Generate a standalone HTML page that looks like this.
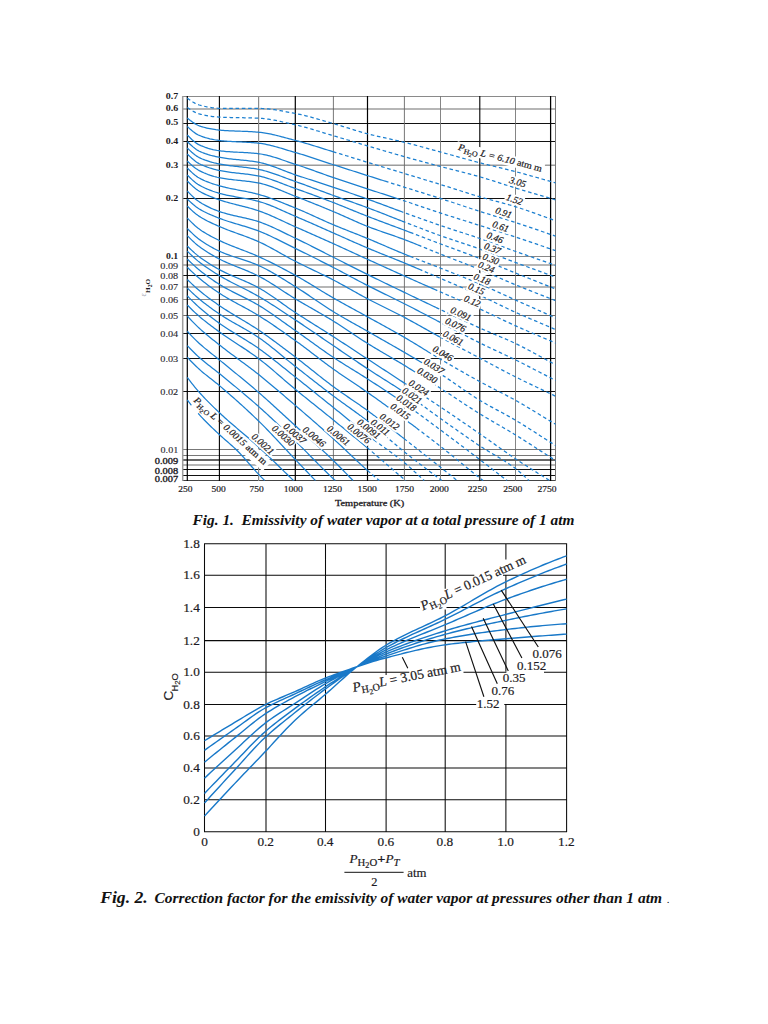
<!DOCTYPE html>
<html lang="en"><head><meta charset="utf-8"><title>Emissivity of water vapor</title>
<style>html,body{margin:0;padding:0;background:#fff}body{width:768px;height:1024px;overflow:hidden;font-family:"Liberation Serif",serif}svg{display:block}</style></head>
<body>
<svg width="768" height="1024" viewBox="0 0 768 1024">
<rect width="768" height="1024" fill="#fff"/>
<clipPath id="c1"><rect x="120" y="85" width="437" height="430"/></clipPath>
<clipPath id="p1"><rect x="182.7" y="96.5" width="372.8" height="384.5"/></clipPath>
<g clip-path="url(#c1)">
<g fill="none">
<path d="M182.1 96.5 H555.8" stroke="#8a8a8a" stroke-width="1.0"/>
<path d="M182.1 109 H555.8" stroke="#9e9e9e" stroke-width="1.6"/>
<path d="M182.1 123.5 H555.8" stroke="#111" stroke-width="1.0"/>
<path d="M182.1 141.5 H555.8" stroke="#111" stroke-width="1.0"/>
<path d="M182.1 165.2 H555.8" stroke="#9c9c9c" stroke-width="1.5"/>
<path d="M182.1 198.5 H555.8" stroke="#111" stroke-width="1.0"/>
<path d="M182.1 256.5 H555.8" stroke="#888" stroke-width="1.0"/>
<path d="M182.1 265 H555.8" stroke="#9e9e9e" stroke-width="1.6"/>
<path d="M182.1 275.5 H555.8" stroke="#111" stroke-width="1.0"/>
<path d="M182.1 287 H555.8" stroke="#9e9e9e" stroke-width="1.6"/>
<path d="M182.1 299.5 H555.8" stroke="#888" stroke-width="1.1"/>
<path d="M182.1 315.5 H555.8" stroke="#6a6a6a" stroke-width="1.0"/>
<path d="M182.1 333.5 H555.8" stroke="#111" stroke-width="1.0"/>
<path d="M182.1 358.5 H555.8" stroke="#111" stroke-width="1.0"/>
<path d="M182.1 391.5 H555.8" stroke="#111" stroke-width="1.0"/>
<path d="M182.1 449.5 H555.8" stroke="#777" stroke-width="1.0"/>
<path d="M182.1 455.5 H555.8" stroke="#777" stroke-width="1.0"/>
<path d="M182.1 459.9 H555.8" stroke="#333" stroke-width="1.5"/>
<path d="M182.1 465 H555.8" stroke="#9e9e9e" stroke-width="1.6"/>
<path d="M182.1 469.5 H555.8" stroke="#111" stroke-width="1.0"/>
<path d="M182.1 475.5 H555.8" stroke="#111" stroke-width="1.0"/>
<path d="M182.1 480.5 H555.8" stroke="#444" stroke-width="1.0"/>
<path d="M182.7 96.1 V481" stroke="#9c9c9c" stroke-width="1.5"/>
<path d="M187.3 96.1 V481" stroke="#000" stroke-width="1.2"/>
<path d="M219.4 96.1 V481" stroke="#000" stroke-width="1.1"/>
<path d="M258.6 96.1 V481" stroke="#8a8a8a" stroke-width="1.2"/>
<path d="M295.3 96.1 V481" stroke="#000" stroke-width="1.2"/>
<path d="M333.4 96.1 V481" stroke="#555" stroke-width="0.8"/>
<path d="M367.5 96.1 V481" stroke="#000" stroke-width="1.2"/>
<path d="M404.4 96.1 V481" stroke="#666" stroke-width="0.9"/>
<path d="M440.5 96.1 V481" stroke="#777" stroke-width="0.9"/>
<path d="M479.8 96.1 V481" stroke="#000" stroke-width="1.1"/>
<path d="M515.5 96.1 V481" stroke="#666" stroke-width="0.8"/>
<path d="M550.6 96.1 V481" stroke="#000" stroke-width="1.25"/>
<path d="M555.5 96.1 V481" stroke="#777" stroke-width="1.0"/>
</g>
<g clip-path="url(#p1)" fill="none" stroke="#1b7fd0" stroke-width="1.25" stroke-linejoin="round">
<path d="M187.3 118 L188.8 119.22 L190.3 120.42 L191.8 121.56 L193.3 122.64 L194.8 123.64 L196.3 124.52 L197.8 125.27 L199.3 125.87 L200.8 126.36 L202.3 126.81 L203.8 127.24 L205.3 127.64 L206.8 128.02 L208.3 128.37 L209.8 128.69 L211.3 128.98 L212.8 129.24 L214.3 129.48 L215.8 129.7 L217.3 129.88 L218.8 130.04 L220.3 130.18 L221.8 130.3 L223.3 130.42 L224.8 130.52 L226.3 130.61 L227.8 130.7 L229.3 130.78 L230.8 130.85 L232.3 130.91 L233.8 130.98 L235.3 131.03 L236.8 131.09 L238.3 131.15 L239.8 131.2 L241.3 131.25 L242.8 131.31 L244.3 131.37 L245.8 131.43 L247.3 131.49 L248.8 131.56 L250.3 131.64 L251.8 131.72 L253.3 131.81 L254.8 131.91 L256.3 132.01 L257.8 132.13 L259.3 132.26 L260.8 132.42 L262.3 132.61 L263.8 132.82 L265.3 133.05 L266.8 133.31 L268.3 133.59 L269.8 133.89 L271.3 134.2 L272.8 134.54 L274.3 134.88 L275.8 135.24 L277.3 135.61 L278.8 136 L280.3 136.39 L281.8 136.78 L283.3 137.18 L284.8 137.59 L286.3 138 L287.8 138.41 L289.3 138.81 L290.8 139.22 L292.3 139.62 L293.8 140.01 L295.3 140.4 L296.8 140.79 L298.3 141.19 L299.8 141.59 L301.3 142.01 L302.8 142.43 L304.3 142.86 L305.8 143.29 L307.3 143.73 L308.8 144.18 L310.3 144.63 L311.8 145.09 L313.3 145.55 L314.8 146.01 L316.3 146.48 L317.8 146.94 L319.3 147.41 L320.8 147.88 L322.3 148.35 L323.8 148.83 L325.3 149.3 L326.8 149.76 L328.3 150.23 L329.8 150.7 L331.3 151.16 L332.8 151.62 L333 151.68 M187.3 126.5 L188.8 127.88 L190.3 129.23 L191.8 130.52 L193.3 131.75 L194.8 132.87 L196.3 133.87 L197.8 134.74 L199.3 135.44 L200.8 136.01 L202.3 136.55 L203.8 137.06 L205.3 137.54 L206.8 137.98 L208.3 138.39 L209.8 138.78 L211.3 139.13 L212.8 139.45 L214.3 139.74 L215.8 140 L217.3 140.23 L218.8 140.43 L220.3 140.6 L221.8 140.76 L223.3 140.9 L224.8 141.03 L226.3 141.15 L227.8 141.26 L229.3 141.36 L230.8 141.46 L232.3 141.54 L233.8 141.62 L235.3 141.7 L236.8 141.78 L238.3 141.85 L239.8 141.92 L241.3 141.99 L242.8 142.06 L244.3 142.14 L245.8 142.22 L247.3 142.3 L248.8 142.39 L250.3 142.49 L251.8 142.59 L253.3 142.7 L254.8 142.83 L256.3 142.97 L257.8 143.11 L259.3 143.28 L260.8 143.47 L262.3 143.7 L263.8 143.95 L265.3 144.22 L266.8 144.52 L268.3 144.84 L269.8 145.19 L271.3 145.55 L272.8 145.93 L274.3 146.32 L275.8 146.73 L277.3 147.15 L278.8 147.58 L280.3 148.02 L281.8 148.47 L283.3 148.92 L284.8 149.37 L286.3 149.83 L287.8 150.28 L289.3 150.74 L290.8 151.19 L292.3 151.63 L293.8 152.07 L295.3 152.5 L296.8 152.93 L298.3 153.37 L299.8 153.81 L301.3 154.26 L302.8 154.72 L304.3 155.19 L305.8 155.66 L307.3 156.13 L308.8 156.61 L310.3 157.1 L311.8 157.59 L313.3 158.08 L314.8 158.57 L316.3 159.07 L317.8 159.56 L319.3 160.06 L320.8 160.56 L322.3 161.06 L323.8 161.56 L325.3 162.06 L326.8 162.55 L328.3 163.05 L329.8 163.54 L331.3 164.02 L332.8 164.51 L334.3 164.99 L335.8 165.47 L337.3 165.95 L338.8 166.43 L340.3 166.91 L341.8 167.39 L343.3 167.87 L344.8 168.35 L346.3 168.83 L347.8 169.31 L349.3 169.79 L350.8 170.27 L352.3 170.75 L353.8 171.23 L355.3 171.71 L356.8 172.19 L358.3 172.67 L359.8 173.15 L361.3 173.63 L362.8 174.11 L364.3 174.58 L365.8 175.06 L367.3 175.54 L368.8 176.01 L370.3 176.49 L371.8 176.96 L373.3 177.43 L374.8 177.91 L376.3 178.38 L377.8 178.85 L379.3 179.33 L380.8 179.8 L382.3 180.27 L383.8 180.74 L385 181.12 M187.3 135 L188.8 136.52 L190.3 138 L191.8 139.43 L193.3 140.78 L194.8 142.02 L196.3 143.14 L197.8 144.1 L199.3 144.89 L200.8 145.56 L202.3 146.18 L203.8 146.77 L205.3 147.33 L206.8 147.85 L208.3 148.34 L209.8 148.79 L211.3 149.21 L212.8 149.59 L214.3 149.93 L215.8 150.23 L217.3 150.5 L218.8 150.72 L220.3 150.91 L221.8 151.08 L223.3 151.24 L224.8 151.38 L226.3 151.51 L227.8 151.63 L229.3 151.74 L230.8 151.84 L232.3 151.93 L233.8 152.02 L235.3 152.1 L236.8 152.18 L238.3 152.25 L239.8 152.33 L241.3 152.4 L242.8 152.48 L244.3 152.56 L245.8 152.64 L247.3 152.73 L248.8 152.83 L250.3 152.93 L251.8 153.04 L253.3 153.16 L254.8 153.3 L256.3 153.45 L257.8 153.61 L259.3 153.79 L260.8 154 L262.3 154.25 L263.8 154.53 L265.3 154.85 L266.8 155.19 L268.3 155.56 L269.8 155.95 L271.3 156.37 L272.8 156.8 L274.3 157.26 L275.8 157.72 L277.3 158.21 L278.8 158.7 L280.3 159.21 L281.8 159.72 L283.3 160.24 L284.8 160.76 L286.3 161.28 L287.8 161.8 L289.3 162.31 L290.8 162.82 L292.3 163.33 L293.8 163.82 L295.3 164.3 L296.8 164.78 L298.3 165.26 L299.8 165.76 L301.3 166.26 L302.8 166.77 L304.3 167.28 L305.8 167.8 L307.3 168.33 L308.8 168.85 L310.3 169.39 L311.8 169.92 L313.3 170.46 L314.8 171 L316.3 171.54 L317.8 172.08 L319.3 172.62 L320.8 173.16 L322.3 173.7 L323.8 174.24 L325.3 174.77 L326.8 175.31 L328.3 175.84 L329.8 176.36 L331.3 176.88 L332.8 177.4 L334.3 177.91 L335.8 178.41 L337.3 178.92 L338.8 179.42 L340.3 179.93 L341.8 180.43 L343.3 180.93 L344.8 181.43 L346.3 181.93 L347.8 182.42 L349.3 182.92 L350.8 183.41 L352.3 183.91 L353.8 184.4 L355.3 184.9 L356.8 185.39 L358.3 185.88 L359.8 186.37 L361.3 186.87 L362.8 187.36 L364.3 187.85 L365.8 188.34 L367.3 188.83 L368.8 189.33 L370.3 189.82 L371.8 190.31 L373.3 190.8 L374.8 191.28 L376.3 191.77 L377.8 192.26 L379.3 192.74 L380.8 193.23 L382.3 193.71 L383.8 194.2 L385.3 194.68 L386.8 195.17 L388.3 195.65 L389.8 196.14 L391.3 196.62 L392.8 197.11 L394.3 197.6 L395.8 198.08 L397 198.47 M187.3 141.5 L188.8 142.98 L190.3 144.43 L191.8 145.82 L193.3 147.13 L194.8 148.35 L196.3 149.45 L197.8 150.41 L199.3 151.2 L200.8 151.87 L202.3 152.5 L203.8 153.08 L205.3 153.63 L206.8 154.14 L208.3 154.62 L209.8 155.06 L211.3 155.48 L212.8 155.87 L214.3 156.23 L215.8 156.57 L217.3 156.89 L218.8 157.19 L220.3 157.47 L221.8 157.72 L223.3 157.97 L224.8 158.19 L226.3 158.4 L227.8 158.6 L229.3 158.78 L230.8 158.96 L232.3 159.13 L233.8 159.29 L235.3 159.44 L236.8 159.59 L238.3 159.74 L239.8 159.88 L241.3 160.03 L242.8 160.18 L244.3 160.33 L245.8 160.49 L247.3 160.66 L248.8 160.84 L250.3 161.02 L251.8 161.22 L253.3 161.43 L254.8 161.65 L256.3 161.89 L257.8 162.15 L259.3 162.43 L260.8 162.75 L262.3 163.1 L263.8 163.48 L265.3 163.9 L266.8 164.34 L268.3 164.81 L269.8 165.3 L271.3 165.81 L272.8 166.34 L274.3 166.88 L275.8 167.44 L277.3 168.01 L278.8 168.58 L280.3 169.17 L281.8 169.75 L283.3 170.34 L284.8 170.93 L286.3 171.51 L287.8 172.09 L289.3 172.66 L290.8 173.21 L292.3 173.76 L293.8 174.29 L295.3 174.8 L296.8 175.3 L298.3 175.8 L299.8 176.29 L301.3 176.79 L302.8 177.28 L304.3 177.77 L305.8 178.26 L307.3 178.75 L308.8 179.24 L310.3 179.72 L311.8 180.21 L313.3 180.7 L314.8 181.18 L316.3 181.67 L317.8 182.16 L319.3 182.64 L320.8 183.13 L322.3 183.62 L323.8 184.11 L325.3 184.61 L326.8 185.1 L328.3 185.6 L329.8 186.09 L331.3 186.6 L332.8 187.1 L334.3 187.6 L335.8 188.11 L337.3 188.62 L338.8 189.13 L340.3 189.64 L341.8 190.15 L343.3 190.66 L344.8 191.17 L346.3 191.69 L347.8 192.2 L349.3 192.72 L350.8 193.24 L352.3 193.76 L353.8 194.28 L355.3 194.8 L356.8 195.32 L358.3 195.85 L359.8 196.37 L361.3 196.9 L362.8 197.43 L364.3 197.96 L365.8 198.49 L367.3 199.03 L368.8 199.57 L370.3 200.11 L371.8 200.65 L373.3 201.19 L374.8 201.74 L376.3 202.29 L377.8 202.85 L379.3 203.4 L380.8 203.96 L382.3 204.52 L383.8 205.08 L385.3 205.64 L386.8 206.2 L388.3 206.76 L389.8 207.32 L391.3 207.88 L392.8 208.43 L394.3 208.99 L395.8 209.55 L397.3 210.1 L398.8 210.66 L400 211.1 M187.3 148 L188.8 149.46 L190.3 150.89 L191.8 152.26 L193.3 153.56 L194.8 154.77 L196.3 155.86 L197.8 156.82 L199.3 157.63 L200.8 158.32 L202.3 158.97 L203.8 159.57 L205.3 160.14 L206.8 160.67 L208.3 161.17 L209.8 161.64 L211.3 162.07 L212.8 162.48 L214.3 162.87 L215.8 163.22 L217.3 163.56 L218.8 163.88 L220.3 164.18 L221.8 164.45 L223.3 164.71 L224.8 164.96 L226.3 165.19 L227.8 165.4 L229.3 165.6 L230.8 165.79 L232.3 165.98 L233.8 166.15 L235.3 166.32 L236.8 166.49 L238.3 166.65 L239.8 166.81 L241.3 166.97 L242.8 167.14 L244.3 167.31 L245.8 167.48 L247.3 167.66 L248.8 167.85 L250.3 168.05 L251.8 168.26 L253.3 168.48 L254.8 168.72 L256.3 168.97 L257.8 169.25 L259.3 169.54 L260.8 169.86 L262.3 170.21 L263.8 170.59 L265.3 170.99 L266.8 171.41 L268.3 171.86 L269.8 172.32 L271.3 172.81 L272.8 173.3 L274.3 173.82 L275.8 174.34 L277.3 174.88 L278.8 175.42 L280.3 175.97 L281.8 176.53 L283.3 177.09 L284.8 177.65 L286.3 178.22 L287.8 178.78 L289.3 179.34 L290.8 179.89 L292.3 180.44 L293.8 180.97 L295.3 181.5 L296.8 182.02 L298.3 182.55 L299.8 183.09 L301.3 183.62 L302.8 184.16 L304.3 184.71 L305.8 185.26 L307.3 185.81 L308.8 186.36 L310.3 186.92 L311.8 187.48 L313.3 188.04 L314.8 188.6 L316.3 189.16 L317.8 189.72 L319.3 190.28 L320.8 190.84 L322.3 191.4 L323.8 191.96 L325.3 192.52 L326.8 193.08 L328.3 193.63 L329.8 194.19 L331.3 194.74 L332.8 195.28 L334.3 195.83 L335.8 196.37 L337.3 196.9 L338.8 197.44 L340.3 197.97 L341.8 198.51 L343.3 199.04 L344.8 199.57 L346.3 200.1 L347.8 200.62 L349.3 201.15 L350.8 201.68 L352.3 202.21 L353.8 202.74 L355.3 203.28 L356.8 203.81 L358.3 204.35 L359.8 204.89 L361.3 205.43 L362.8 205.97 L364.3 206.52 L365.8 207.07 L367.3 207.63 L368.8 208.19 L370.3 208.75 L371.8 209.32 L373.3 209.89 L374.8 210.46 L376.3 211.04 L377.8 211.62 L379.3 212.2 L380.8 212.78 L382.3 213.37 L383.8 213.95 L385.3 214.54 L386.8 215.13 L388.3 215.72 L389.8 216.31 L391.3 216.9 L392.8 217.49 L394.3 218.08 L395.8 218.66 L397.3 219.25 L398.8 219.83 L400.3 220.42 L401.8 221 L402 221.08 M187.3 154 L188.8 155.47 L190.3 156.9 L191.8 158.28 L193.3 159.59 L194.8 160.81 L196.3 161.92 L197.8 162.9 L199.3 163.73 L200.8 164.46 L202.3 165.13 L203.8 165.78 L205.3 166.38 L206.8 166.95 L208.3 167.48 L209.8 167.98 L211.3 168.45 L212.8 168.89 L214.3 169.3 L215.8 169.69 L217.3 170.04 L218.8 170.37 L220.3 170.68 L221.8 170.97 L223.3 171.24 L224.8 171.49 L226.3 171.72 L227.8 171.94 L229.3 172.15 L230.8 172.34 L232.3 172.53 L233.8 172.71 L235.3 172.88 L236.8 173.05 L238.3 173.21 L239.8 173.37 L241.3 173.54 L242.8 173.7 L244.3 173.87 L245.8 174.05 L247.3 174.23 L248.8 174.42 L250.3 174.62 L251.8 174.84 L253.3 175.06 L254.8 175.31 L256.3 175.56 L257.8 175.84 L259.3 176.14 L260.8 176.47 L262.3 176.83 L263.8 177.22 L265.3 177.64 L266.8 178.08 L268.3 178.54 L269.8 179.02 L271.3 179.52 L272.8 180.04 L274.3 180.57 L275.8 181.11 L277.3 181.67 L278.8 182.23 L280.3 182.81 L281.8 183.38 L283.3 183.96 L284.8 184.55 L286.3 185.13 L287.8 185.71 L289.3 186.28 L290.8 186.85 L292.3 187.41 L293.8 187.96 L295.3 188.5 L296.8 189.03 L298.3 189.57 L299.8 190.1 L301.3 190.64 L302.8 191.18 L304.3 191.72 L305.8 192.27 L307.3 192.81 L308.8 193.36 L310.3 193.91 L311.8 194.46 L313.3 195.01 L314.8 195.57 L316.3 196.13 L317.8 196.68 L319.3 197.24 L320.8 197.81 L322.3 198.37 L323.8 198.94 L325.3 199.5 L326.8 200.07 L328.3 200.64 L329.8 201.22 L331.3 201.79 L332.8 202.37 L334.3 202.95 L335.8 203.53 L337.3 204.12 L338.8 204.72 L340.3 205.32 L341.8 205.92 L343.3 206.52 L344.8 207.13 L346.3 207.74 L347.8 208.35 L349.3 208.97 L350.8 209.58 L352.3 210.19 L353.8 210.81 L355.3 211.42 L356.8 212.03 L358.3 212.64 L359.8 213.24 L361.3 213.85 L362.8 214.45 L364.3 215.04 L365.8 215.64 L367.3 216.22 L368.8 216.8 L370.3 217.38 L371.8 217.96 L373.3 218.53 L374.8 219.11 L376.3 219.68 L377.8 220.24 L379.3 220.81 L380.8 221.37 L382.3 221.94 L383.8 222.5 L385.3 223.06 L386.8 223.62 L388.3 224.18 L389.8 224.74 L391.3 225.29 L392.8 225.85 L394.3 226.41 L395.8 226.97 L397.3 227.53 L398.8 228.09 L400.3 228.66 L401.8 229.22 L403.3 229.78 L404.8 230.35 L406.3 230.92 L407.8 231.49 L409.3 232.06 L410 232.32 M187.3 161 L188.8 162.44 L190.3 163.86 L191.8 165.22 L193.3 166.51 L194.8 167.71 L196.3 168.82 L197.8 169.8 L199.3 170.65 L200.8 171.39 L202.3 172.09 L203.8 172.76 L205.3 173.39 L206.8 173.99 L208.3 174.56 L209.8 175.09 L211.3 175.58 L212.8 176.04 L214.3 176.48 L215.8 176.87 L217.3 177.24 L218.8 177.57 L220.3 177.88 L221.8 178.16 L223.3 178.43 L224.8 178.67 L226.3 178.9 L227.8 179.11 L229.3 179.31 L230.8 179.49 L232.3 179.67 L233.8 179.84 L235.3 180 L236.8 180.16 L238.3 180.31 L239.8 180.47 L241.3 180.62 L242.8 180.78 L244.3 180.94 L245.8 181.1 L247.3 181.27 L248.8 181.46 L250.3 181.65 L251.8 181.86 L253.3 182.08 L254.8 182.31 L256.3 182.57 L257.8 182.84 L259.3 183.14 L260.8 183.48 L262.3 183.84 L263.8 184.24 L265.3 184.67 L266.8 185.13 L268.3 185.62 L269.8 186.13 L271.3 186.66 L272.8 187.21 L274.3 187.77 L275.8 188.36 L277.3 188.95 L278.8 189.56 L280.3 190.17 L281.8 190.79 L283.3 191.42 L284.8 192.04 L286.3 192.67 L287.8 193.29 L289.3 193.91 L290.8 194.53 L292.3 195.13 L293.8 195.72 L295.3 196.3 L296.8 196.87 L298.3 197.45 L299.8 198.03 L301.3 198.61 L302.8 199.19 L304.3 199.78 L305.8 200.37 L307.3 200.96 L308.8 201.56 L310.3 202.15 L311.8 202.75 L313.3 203.35 L314.8 203.96 L316.3 204.56 L317.8 205.17 L319.3 205.78 L320.8 206.39 L322.3 207.01 L323.8 207.62 L325.3 208.24 L326.8 208.86 L328.3 209.48 L329.8 210.1 L331.3 210.72 L332.8 211.35 L334.3 211.98 L335.8 212.61 L337.3 213.26 L338.8 213.91 L340.3 214.57 L341.8 215.23 L343.3 215.9 L344.8 216.57 L346.3 217.24 L347.8 217.92 L349.3 218.59 L350.8 219.26 L352.3 219.93 L353.8 220.6 L355.3 221.27 L356.8 221.93 L358.3 222.58 L359.8 223.23 L361.3 223.87 L362.8 224.5 L364.3 225.12 L365.8 225.72 L367.3 226.32 L368.8 226.91 L370.3 227.48 L371.8 228.05 L373.3 228.6 L374.8 229.15 L376.3 229.69 L377.8 230.23 L379.3 230.76 L380.8 231.28 L382.3 231.81 L383.8 232.33 L385.3 232.84 L386.8 233.36 L388.3 233.87 L389.8 234.39 L391.3 234.91 L392.8 235.42 L394.3 235.95 L395.8 236.47 L397.3 237 L398.8 237.54 L400.3 238.08 L401.8 238.63 L403.3 239.19 L404.8 239.75 L406.3 240.32 L407.8 240.9 L409.3 241.49 L410.8 242.07 L412.3 242.67 L413.8 243.27 L415.3 243.87 L416.8 244.47 L418 244.96 M187.3 168 L188.8 169.5 L190.3 170.96 L191.8 172.37 L193.3 173.71 L194.8 174.97 L196.3 176.13 L197.8 177.17 L199.3 178.07 L200.8 178.87 L202.3 179.61 L203.8 180.32 L205.3 180.98 L206.8 181.6 L208.3 182.19 L209.8 182.75 L211.3 183.28 L212.8 183.79 L214.3 184.27 L215.8 184.74 L217.3 185.19 L218.8 185.63 L220.3 186.05 L221.8 186.46 L223.3 186.85 L224.8 187.22 L226.3 187.58 L227.8 187.92 L229.3 188.24 L230.8 188.56 L232.3 188.86 L233.8 189.16 L235.3 189.45 L236.8 189.74 L238.3 190.02 L239.8 190.3 L241.3 190.59 L242.8 190.87 L244.3 191.16 L245.8 191.45 L247.3 191.75 L248.8 192.06 L250.3 192.38 L251.8 192.71 L253.3 193.05 L254.8 193.41 L256.3 193.79 L257.8 194.18 L259.3 194.6 L260.8 195.03 L262.3 195.48 L263.8 195.95 L265.3 196.43 L266.8 196.93 L268.3 197.44 L269.8 197.97 L271.3 198.5 L272.8 199.05 L274.3 199.61 L275.8 200.18 L277.3 200.76 L278.8 201.34 L280.3 201.93 L281.8 202.53 L283.3 203.13 L284.8 203.74 L286.3 204.34 L287.8 204.95 L289.3 205.57 L290.8 206.18 L292.3 206.79 L293.8 207.39 L295.3 208 L296.8 208.61 L298.3 209.23 L299.8 209.86 L301.3 210.5 L302.8 211.15 L304.3 211.8 L305.8 212.46 L307.3 213.13 L308.8 213.8 L310.3 214.48 L311.8 215.16 L313.3 215.84 L314.8 216.52 L316.3 217.21 L317.8 217.89 L319.3 218.57 L320.8 219.25 L322.3 219.93 L323.8 220.61 L325.3 221.28 L326.8 221.95 L328.3 222.61 L329.8 223.26 L331.3 223.91 L332.8 224.55 L334.3 225.18 L335.8 225.8 L337.3 226.42 L338.8 227.03 L340.3 227.64 L341.8 228.25 L343.3 228.85 L344.8 229.45 L346.3 230.04 L347.8 230.64 L349.3 231.23 L350.8 231.82 L352.3 232.41 L353.8 233.01 L355.3 233.6 L356.8 234.19 L358.3 234.79 L359.8 235.38 L361.3 235.98 L362.8 236.59 L364.3 237.19 L365.8 237.8 L367.3 238.42 L368.8 239.04 L370.3 239.66 L371.8 240.29 L373.3 240.92 L374.8 241.56 L376.3 242.19 L377.8 242.83 L379.3 243.48 L380.8 244.12 L382.3 244.76 L383.8 245.41 L385.3 246.05 L386.8 246.7 L388.3 247.34 L389.8 247.99 L391.3 248.63 L392.8 249.27 L394.3 249.91 L395.8 250.54 L397.3 251.17 L398.8 251.8 L400.3 252.42 L401.8 253.04 L403.3 253.65 L404.8 254.26 L406.3 254.86 L407.8 255.46 L409.3 256.06 L410 256.33 M187.3 175 L188.8 176.5 L190.3 177.96 L191.8 179.37 L193.3 180.71 L194.8 181.98 L196.3 183.15 L197.8 184.2 L199.3 185.13 L200.8 185.96 L202.3 186.75 L203.8 187.49 L205.3 188.2 L206.8 188.87 L208.3 189.5 L209.8 190.1 L211.3 190.67 L212.8 191.22 L214.3 191.73 L215.8 192.22 L217.3 192.68 L218.8 193.13 L220.3 193.55 L221.8 193.95 L223.3 194.33 L224.8 194.68 L226.3 195.02 L227.8 195.34 L229.3 195.64 L230.8 195.94 L232.3 196.22 L233.8 196.49 L235.3 196.76 L236.8 197.02 L238.3 197.27 L239.8 197.53 L241.3 197.79 L242.8 198.04 L244.3 198.31 L245.8 198.58 L247.3 198.85 L248.8 199.14 L250.3 199.44 L251.8 199.75 L253.3 200.08 L254.8 200.43 L256.3 200.8 L257.8 201.18 L259.3 201.6 L260.8 202.04 L262.3 202.5 L263.8 203 L265.3 203.52 L266.8 204.06 L268.3 204.62 L269.8 205.2 L271.3 205.8 L272.8 206.41 L274.3 207.04 L275.8 207.68 L277.3 208.33 L278.8 208.99 L280.3 209.65 L281.8 210.32 L283.3 211 L284.8 211.67 L286.3 212.35 L287.8 213.02 L289.3 213.69 L290.8 214.36 L292.3 215.01 L293.8 215.66 L295.3 216.3 L296.8 216.93 L298.3 217.57 L299.8 218.21 L301.3 218.86 L302.8 219.5 L304.3 220.15 L305.8 220.81 L307.3 221.46 L308.8 222.12 L310.3 222.78 L311.8 223.44 L313.3 224.1 L314.8 224.76 L316.3 225.43 L317.8 226.09 L319.3 226.76 L320.8 227.43 L322.3 228.09 L323.8 228.76 L325.3 229.42 L326.8 230.09 L328.3 230.75 L329.8 231.41 L331.3 232.08 L332.8 232.74 L334.3 233.4 L335.8 234.06 L337.3 234.72 L338.8 235.38 L340.3 236.05 L341.8 236.72 L343.3 237.39 L344.8 238.05 L346.3 238.72 L347.8 239.39 L349.3 240.06 L350.8 240.73 L352.3 241.39 L353.8 242.06 L355.3 242.72 L356.8 243.38 L358.3 244.04 L359.8 244.69 L361.3 245.34 L362.8 245.99 L364.3 246.64 L365.8 247.28 L367.3 247.92 L368.8 248.55 L370.3 249.18 L371.8 249.8 L373.3 250.42 L374.8 251.03 L376.3 251.64 L377.8 252.25 L379.3 252.86 L380.8 253.46 L382.3 254.07 L383.8 254.67 L385.3 255.27 L386.8 255.87 L388.3 256.47 L389.8 257.07 L391.3 257.67 L392.8 258.27 L394.3 258.87 L395.8 259.48 L397.3 260.09 L398.8 260.7 L400.3 261.31 L401.8 261.92 L403.3 262.54 L404.8 263.17 L406.3 263.79 L407.8 264.42 L409.3 265.05 L410.8 265.68 L412.3 266.32 L413.8 266.95 L415.3 267.59 L416.8 268.23 L418.3 268.87 L419 269.16 M187.3 181 L188.8 182.49 L190.3 183.95 L191.8 185.36 L193.3 186.71 L194.8 187.98 L196.3 189.15 L197.8 190.23 L199.3 191.18 L200.8 192.04 L202.3 192.85 L203.8 193.61 L205.3 194.33 L206.8 195.01 L208.3 195.66 L209.8 196.28 L211.3 196.87 L212.8 197.45 L214.3 198 L215.8 198.54 L217.3 199.07 L218.8 199.59 L220.3 200.11 L221.8 200.6 L223.3 201.08 L224.8 201.54 L226.3 201.98 L227.8 202.41 L229.3 202.83 L230.8 203.23 L232.3 203.63 L233.8 204.01 L235.3 204.4 L236.8 204.77 L238.3 205.15 L239.8 205.52 L241.3 205.89 L242.8 206.27 L244.3 206.65 L245.8 207.04 L247.3 207.43 L248.8 207.83 L250.3 208.24 L251.8 208.67 L253.3 209.11 L254.8 209.56 L256.3 210.04 L257.8 210.53 L259.3 211.04 L260.8 211.58 L262.3 212.13 L263.8 212.71 L265.3 213.3 L266.8 213.91 L268.3 214.53 L269.8 215.17 L271.3 215.82 L272.8 216.48 L274.3 217.15 L275.8 217.83 L277.3 218.51 L278.8 219.21 L280.3 219.9 L281.8 220.6 L283.3 221.3 L284.8 222 L286.3 222.7 L287.8 223.4 L289.3 224.09 L290.8 224.78 L292.3 225.46 L293.8 226.14 L295.3 226.8 L296.8 227.46 L298.3 228.12 L299.8 228.78 L301.3 229.44 L302.8 230.1 L304.3 230.76 L305.8 231.42 L307.3 232.08 L308.8 232.74 L310.3 233.41 L311.8 234.07 L313.3 234.73 L314.8 235.4 L316.3 236.06 L317.8 236.73 L319.3 237.39 L320.8 238.06 L322.3 238.73 L323.8 239.4 L325.3 240.07 L326.8 240.74 L328.3 241.41 L329.8 242.08 L331.3 242.76 L332.8 243.43 L334.3 244.11 L335.8 244.78 L337.3 245.46 L338.8 246.15 L340.3 246.83 L341.8 247.51 L343.3 248.2 L344.8 248.89 L346.3 249.57 L347.8 250.26 L349.3 250.95 L350.8 251.64 L352.3 252.33 L353.8 253.02 L355.3 253.71 L356.8 254.4 L358.3 255.09 L359.8 255.78 L361.3 256.47 L362.8 257.15 L364.3 257.84 L365.8 258.53 L367.3 259.21 L368.8 259.89 L370.3 260.57 L371.8 261.26 L373.3 261.94 L374.8 262.62 L376.3 263.3 L377.8 263.98 L379.3 264.67 L380.8 265.35 L382.3 266.03 L383.8 266.71 L385.3 267.39 L386.8 268.07 L388.3 268.75 L389.8 269.43 L391.3 270.1 L392.8 270.78 L394.3 271.46 L395.8 272.14 L397.3 272.81 L398.8 273.49 L400.3 274.16 L401.8 274.83 L403.3 275.51 L404.8 276.18 L406.3 276.85 L407.8 277.52 L409.3 278.19 L410.8 278.86 L412.3 279.53 L413.8 280.2 L415.3 280.87 L416.8 281.54 L418.3 282.2 L419.8 282.87 L421.3 283.53 L422.8 284.2 L424.3 284.86 L425.8 285.53 L427.3 286.19 L428.8 286.85 L430.3 287.52 L431.8 288.18 L433.3 288.84 L434 289.15 M187.3 191 L188.8 192.58 L190.3 194.12 L191.8 195.61 L193.3 197.04 L194.8 198.4 L196.3 199.66 L197.8 200.82 L199.3 201.86 L200.8 202.8 L202.3 203.71 L203.8 204.57 L205.3 205.39 L206.8 206.17 L208.3 206.92 L209.8 207.63 L211.3 208.32 L212.8 208.97 L214.3 209.59 L215.8 210.18 L217.3 210.75 L218.8 211.29 L220.3 211.81 L221.8 212.3 L223.3 212.77 L224.8 213.21 L226.3 213.64 L227.8 214.04 L229.3 214.43 L230.8 214.81 L232.3 215.17 L233.8 215.52 L235.3 215.86 L236.8 216.2 L238.3 216.53 L239.8 216.86 L241.3 217.19 L242.8 217.53 L244.3 217.86 L245.8 218.21 L247.3 218.56 L248.8 218.92 L250.3 219.3 L251.8 219.69 L253.3 220.1 L254.8 220.52 L256.3 220.97 L257.8 221.44 L259.3 221.93 L260.8 222.45 L262.3 223 L263.8 223.57 L265.3 224.16 L266.8 224.76 L268.3 225.39 L269.8 226.03 L271.3 226.69 L272.8 227.37 L274.3 228.05 L275.8 228.75 L277.3 229.46 L278.8 230.17 L280.3 230.9 L281.8 231.63 L283.3 232.36 L284.8 233.09 L286.3 233.83 L287.8 234.57 L289.3 235.3 L290.8 236.04 L292.3 236.76 L293.8 237.49 L295.3 238.2 L296.8 238.91 L298.3 239.63 L299.8 240.36 L301.3 241.09 L302.8 241.83 L304.3 242.57 L305.8 243.31 L307.3 244.06 L308.8 244.81 L310.3 245.56 L311.8 246.32 L313.3 247.08 L314.8 247.84 L316.3 248.6 L317.8 249.37 L319.3 250.13 L320.8 250.9 L322.3 251.66 L323.8 252.43 L325.3 253.19 L326.8 253.96 L328.3 254.72 L329.8 255.48 L331.3 256.24 L332.8 257 L334.3 257.75 L335.8 258.51 L337.3 259.27 L338.8 260.02 L340.3 260.78 L341.8 261.54 L343.3 262.31 L344.8 263.07 L346.3 263.83 L347.8 264.59 L349.3 265.35 L350.8 266.11 L352.3 266.87 L353.8 267.63 L355.3 268.39 L356.8 269.15 L358.3 269.9 L359.8 270.66 L361.3 271.41 L362.8 272.16 L364.3 272.91 L365.8 273.66 L367.3 274.4 L368.8 275.14 L370.3 275.88 L371.8 276.62 L373.3 277.36 L374.8 278.09 L376.3 278.82 L377.8 279.56 L379.3 280.29 L380.8 281.02 L382.3 281.75 L383.8 282.47 L385.3 283.2 L386.8 283.93 L388.3 284.65 L389.8 285.37 L391.3 286.1 L392.8 286.82 L394.3 287.54 L395.8 288.27 L397.3 288.99 L398.8 289.71 L400.3 290.43 L401.8 291.15 L403.3 291.87 L404.8 292.59 L406.3 293.31 L407.8 294.03 L409.3 294.75 L410.8 295.47 L412.3 296.19 L413.8 296.91 L415.3 297.63 L416.8 298.34 L418.3 299.06 L419.8 299.77 L421.3 300.49 L422.8 301.2 L424.3 301.92 L425.8 302.63 L427.3 303.35 L428.8 304.06 L430.3 304.77 L431.8 305.48 L433.3 306.19 L434.8 306.9 L436 307.47 M187.3 199 L188.8 200.44 L190.3 201.85 L191.8 203.21 L193.3 204.52 L194.8 205.77 L196.3 206.93 L197.8 208.01 L199.3 208.99 L200.8 209.88 L202.3 210.73 L203.8 211.54 L205.3 212.3 L206.8 213.03 L208.3 213.73 L209.8 214.41 L211.3 215.05 L212.8 215.68 L214.3 216.29 L215.8 216.89 L217.3 217.48 L218.8 218.07 L220.3 218.65 L221.8 219.2 L223.3 219.74 L224.8 220.27 L226.3 220.77 L227.8 221.27 L229.3 221.75 L230.8 222.22 L232.3 222.68 L233.8 223.13 L235.3 223.58 L236.8 224.02 L238.3 224.46 L239.8 224.9 L241.3 225.34 L242.8 225.78 L244.3 226.22 L245.8 226.68 L247.3 227.13 L248.8 227.6 L250.3 228.08 L251.8 228.57 L253.3 229.08 L254.8 229.6 L256.3 230.14 L257.8 230.69 L259.3 231.27 L260.8 231.87 L262.3 232.49 L263.8 233.12 L265.3 233.77 L266.8 234.43 L268.3 235.11 L269.8 235.8 L271.3 236.5 L272.8 237.22 L274.3 237.94 L275.8 238.67 L277.3 239.41 L278.8 240.15 L280.3 240.9 L281.8 241.65 L283.3 242.41 L284.8 243.16 L286.3 243.92 L287.8 244.67 L289.3 245.43 L290.8 246.18 L292.3 246.92 L293.8 247.67 L295.3 248.4 L296.8 249.13 L298.3 249.87 L299.8 250.6 L301.3 251.34 L302.8 252.08 L304.3 252.82 L305.8 253.56 L307.3 254.3 L308.8 255.05 L310.3 255.79 L311.8 256.54 L313.3 257.29 L314.8 258.05 L316.3 258.8 L317.8 259.55 L319.3 260.31 L320.8 261.07 L322.3 261.83 L323.8 262.59 L325.3 263.35 L326.8 264.12 L328.3 264.88 L329.8 265.65 L331.3 266.42 L332.8 267.19 L334.3 267.96 L335.8 268.74 L337.3 269.52 L338.8 270.31 L340.3 271.1 L341.8 271.9 L343.3 272.69 L344.8 273.49 L346.3 274.29 L347.8 275.1 L349.3 275.9 L350.8 276.7 L352.3 277.51 L353.8 278.31 L355.3 279.11 L356.8 279.91 L358.3 280.7 L359.8 281.5 L361.3 282.29 L362.8 283.07 L364.3 283.85 L365.8 284.63 L367.3 285.4 L368.8 286.16 L370.3 286.92 L371.8 287.68 L373.3 288.43 L374.8 289.17 L376.3 289.92 L377.8 290.66 L379.3 291.39 L380.8 292.13 L382.3 292.86 L383.8 293.6 L385.3 294.33 L386.8 295.06 L388.3 295.79 L389.8 296.52 L391.3 297.25 L392.8 297.99 L394.3 298.72 L395.8 299.46 L397.3 300.2 L398.8 300.94 L400.3 301.69 L401.8 302.44 L403.3 303.19 L404.8 303.95 L406.3 304.72 L407.8 305.48 L409.3 306.25 L410.8 307.02 L412.3 307.79 L413.8 308.57 L415.3 309.34 L416.8 310.12 L418.3 310.9 L419.8 311.69 L421.3 312.47 L422.8 313.25 L424.3 314.04 L425.8 314.82 L427.3 315.61 L428.8 316.39 L430.3 317.18 L431.8 317.96 L433.3 318.75 L434.8 319.53 L436.3 320.31 L437 320.68 M187.3 206 L188.8 207.48 L190.3 208.93 L191.8 210.34 L193.3 211.69 L194.8 212.98 L196.3 214.2 L197.8 215.33 L199.3 216.37 L200.8 217.32 L202.3 218.22 L203.8 219.08 L205.3 219.91 L206.8 220.69 L208.3 221.45 L209.8 222.17 L211.3 222.88 L212.8 223.57 L214.3 224.24 L215.8 224.91 L217.3 225.57 L218.8 226.23 L220.3 226.9 L221.8 227.54 L223.3 228.17 L224.8 228.78 L226.3 229.38 L227.8 229.96 L229.3 230.53 L230.8 231.1 L232.3 231.65 L233.8 232.2 L235.3 232.74 L236.8 233.28 L238.3 233.82 L239.8 234.36 L241.3 234.9 L242.8 235.44 L244.3 235.98 L245.8 236.53 L247.3 237.09 L248.8 237.66 L250.3 238.24 L251.8 238.83 L253.3 239.43 L254.8 240.05 L256.3 240.69 L257.8 241.34 L259.3 242.02 L260.8 242.71 L262.3 243.43 L263.8 244.17 L265.3 244.92 L266.8 245.7 L268.3 246.48 L269.8 247.28 L271.3 248.09 L272.8 248.91 L274.3 249.74 L275.8 250.57 L277.3 251.41 L278.8 252.26 L280.3 253.1 L281.8 253.95 L283.3 254.79 L284.8 255.63 L286.3 256.47 L287.8 257.3 L289.3 258.12 L290.8 258.93 L292.3 259.74 L293.8 260.52 L295.3 261.3 L296.8 262.06 L298.3 262.82 L299.8 263.57 L301.3 264.31 L302.8 265.05 L304.3 265.78 L305.8 266.51 L307.3 267.23 L308.8 267.96 L310.3 268.68 L311.8 269.39 L313.3 270.11 L314.8 270.83 L316.3 271.55 L317.8 272.27 L319.3 272.99 L320.8 273.71 L322.3 274.44 L323.8 275.17 L325.3 275.91 L326.8 276.65 L328.3 277.4 L329.8 278.16 L331.3 278.92 L332.8 279.69 L334.3 280.47 L335.8 281.26 L337.3 282.06 L338.8 282.87 L340.3 283.68 L341.8 284.51 L343.3 285.34 L344.8 286.17 L346.3 287.01 L347.8 287.85 L349.3 288.69 L350.8 289.54 L352.3 290.38 L353.8 291.23 L355.3 292.07 L356.8 292.91 L358.3 293.75 L359.8 294.58 L361.3 295.41 L362.8 296.23 L364.3 297.04 L365.8 297.85 L367.3 298.64 L368.8 299.43 L370.3 300.21 L371.8 300.99 L373.3 301.75 L374.8 302.52 L376.3 303.27 L377.8 304.03 L379.3 304.78 L380.8 305.52 L382.3 306.27 L383.8 307.01 L385.3 307.75 L386.8 308.49 L388.3 309.24 L389.8 309.98 L391.3 310.72 L392.8 311.47 L394.3 312.22 L395.8 312.98 L397.3 313.73 L398.8 314.5 L400.3 315.27 L401.8 316.04 L403.3 316.82 L404.8 317.61 L406.3 318.41 L407.8 319.21 L409.3 320.02 L410.8 320.84 L412.3 321.65 L413.8 322.48 L415.3 323.31 L416.8 324.14 L418.3 324.97 L419.8 325.81 L421.3 326.65 L422.8 327.49 L424.3 328.33 L425.8 329.17 L427.3 330.01 L428.8 330.85 L430.3 331.69 L431.8 332.52 L433.3 333.35 L434.8 334.18 L436.3 335.01 L437.8 335.83 L439.3 336.65 L440 337.03 M187.3 218 L188.8 219.57 L190.3 221.11 L191.8 222.61 L193.3 224.05 L194.8 225.44 L196.3 226.74 L197.8 227.97 L199.3 229.11 L200.8 230.16 L202.3 231.17 L203.8 232.13 L205.3 233.06 L206.8 233.95 L208.3 234.81 L209.8 235.64 L211.3 236.44 L212.8 237.23 L214.3 237.99 L215.8 238.74 L217.3 239.48 L218.8 240.21 L220.3 240.93 L221.8 241.63 L223.3 242.32 L224.8 242.98 L226.3 243.63 L227.8 244.27 L229.3 244.89 L230.8 245.5 L232.3 246.1 L233.8 246.69 L235.3 247.27 L236.8 247.85 L238.3 248.42 L239.8 249 L241.3 249.57 L242.8 250.14 L244.3 250.71 L245.8 251.29 L247.3 251.87 L248.8 252.46 L250.3 253.06 L251.8 253.67 L253.3 254.29 L254.8 254.93 L256.3 255.57 L257.8 256.24 L259.3 256.92 L260.8 257.61 L262.3 258.31 L263.8 259.02 L265.3 259.73 L266.8 260.45 L268.3 261.18 L269.8 261.92 L271.3 262.66 L272.8 263.41 L274.3 264.17 L275.8 264.93 L277.3 265.7 L278.8 266.47 L280.3 267.25 L281.8 268.04 L283.3 268.83 L284.8 269.62 L286.3 270.42 L287.8 271.22 L289.3 272.03 L290.8 272.84 L292.3 273.66 L293.8 274.48 L295.3 275.3 L296.8 276.13 L298.3 276.97 L299.8 277.83 L301.3 278.69 L302.8 279.57 L304.3 280.45 L305.8 281.35 L307.3 282.25 L308.8 283.15 L310.3 284.06 L311.8 284.98 L313.3 285.9 L314.8 286.82 L316.3 287.74 L317.8 288.66 L319.3 289.58 L320.8 290.5 L322.3 291.41 L323.8 292.32 L325.3 293.23 L326.8 294.13 L328.3 295.02 L329.8 295.91 L331.3 296.79 L332.8 297.66 L334.3 298.51 L335.8 299.37 L337.3 300.21 L338.8 301.05 L340.3 301.89 L341.8 302.73 L343.3 303.56 L344.8 304.38 L346.3 305.21 L347.8 306.03 L349.3 306.85 L350.8 307.67 L352.3 308.48 L353.8 309.3 L355.3 310.12 L356.8 310.93 L358.3 311.75 L359.8 312.57 L361.3 313.39 L362.8 314.21 L364.3 315.03 L365.8 315.86 L367.3 316.69 L368.8 317.52 L370.3 318.35 L371.8 319.18 L373.3 320.01 L374.8 320.83 L376.3 321.66 L377.8 322.49 L379.3 323.31 L380.8 324.14 L382.3 324.97 L383.8 325.79 L385.3 326.62 L386.8 327.45 L388.3 328.29 L389.8 329.12 L391.3 329.96 L392.8 330.8 L394.3 331.64 L395.8 332.48 L397.3 333.33 L398.8 334.18 L400.3 335.04 L401.8 335.9 L403.3 336.76 L404.8 337.63 L406.3 338.51 L407.8 339.39 L409.3 340.28 L410.8 341.18 L412.3 342.08 L413.8 342.99 L415.3 343.9 L416.8 344.81 L418.3 345.73 L419.8 346.64 L421.3 347.57 L422.8 348.49 L424.3 349.41 L425.8 350.33 L427.3 351.25 L428 351.68 M187.3 228.4 L188.8 229.94 L190.3 231.45 L191.8 232.92 L193.3 234.34 L194.8 235.71 L196.3 237.01 L197.8 238.23 L199.3 239.38 L200.8 240.46 L202.3 241.5 L203.8 242.51 L205.3 243.49 L206.8 244.43 L208.3 245.34 L209.8 246.23 L211.3 247.08 L212.8 247.9 L214.3 248.7 L215.8 249.46 L217.3 250.21 L218.8 250.92 L220.3 251.61 L221.8 252.27 L223.3 252.9 L224.8 253.51 L226.3 254.09 L227.8 254.65 L229.3 255.19 L230.8 255.72 L232.3 256.23 L233.8 256.73 L235.3 257.23 L236.8 257.71 L238.3 258.19 L239.8 258.67 L241.3 259.16 L242.8 259.64 L244.3 260.13 L245.8 260.62 L247.3 261.13 L248.8 261.65 L250.3 262.18 L251.8 262.73 L253.3 263.3 L254.8 263.89 L256.3 264.5 L257.8 265.15 L259.3 265.82 L260.8 266.51 L262.3 267.23 L263.8 267.98 L265.3 268.74 L266.8 269.53 L268.3 270.33 L269.8 271.16 L271.3 272 L272.8 272.85 L274.3 273.72 L275.8 274.6 L277.3 275.5 L278.8 276.4 L280.3 277.31 L281.8 278.23 L283.3 279.15 L284.8 280.08 L286.3 281.01 L287.8 281.95 L289.3 282.88 L290.8 283.82 L292.3 284.75 L293.8 285.68 L295.3 286.6 L296.8 287.53 L298.3 288.47 L299.8 289.43 L301.3 290.4 L302.8 291.38 L304.3 292.37 L305.8 293.37 L307.3 294.37 L308.8 295.38 L310.3 296.4 L311.8 297.42 L313.3 298.44 L314.8 299.46 L316.3 300.49 L317.8 301.51 L319.3 302.52 L320.8 303.54 L322.3 304.54 L323.8 305.54 L325.3 306.54 L326.8 307.52 L328.3 308.49 L329.8 309.45 L331.3 310.4 L332.8 311.33 L334.3 312.25 L335.8 313.16 L337.3 314.06 L338.8 314.95 L340.3 315.83 L341.8 316.7 L343.3 317.57 L344.8 318.43 L346.3 319.29 L347.8 320.14 L349.3 320.99 L350.8 321.84 L352.3 322.68 L353.8 323.52 L355.3 324.37 L356.8 325.21 L358.3 326.05 L359.8 326.89 L361.3 327.73 L362.8 328.58 L364.3 329.43 L365.8 330.28 L367.3 331.14 L368.8 331.99 L370.3 332.85 L371.8 333.71 L373.3 334.57 L374.8 335.42 L376.3 336.27 L377.8 337.13 L379.3 337.98 L380.8 338.84 L382.3 339.69 L383.8 340.54 L385.3 341.4 L386.8 342.25 L388.3 343.11 L389.8 343.97 L391.3 344.82 L392.8 345.68 L394.3 346.55 L395.8 347.41 L397.3 348.27 L398.8 349.14 L400.3 350.01 L401.8 350.88 L403.3 351.76 L404.8 352.63 L406.3 353.51 L407.8 354.39 L409.3 355.27 L410.8 356.14 L412.3 357.02 L413.8 357.9 L415.3 358.78 L416.8 359.66 L418.3 360.54 L419.8 361.43 L421 362.13 M187.3 235.6 L188.8 237.13 L190.3 238.62 L191.8 240.08 L193.3 241.5 L194.8 242.87 L196.3 244.18 L197.8 245.42 L199.3 246.59 L200.8 247.7 L202.3 248.77 L203.8 249.8 L205.3 250.81 L206.8 251.78 L208.3 252.73 L209.8 253.65 L211.3 254.54 L212.8 255.41 L214.3 256.25 L215.8 257.08 L217.3 257.89 L218.8 258.69 L220.3 259.46 L221.8 260.21 L223.3 260.94 L224.8 261.64 L226.3 262.33 L227.8 262.99 L229.3 263.64 L230.8 264.28 L232.3 264.9 L233.8 265.51 L235.3 266.12 L236.8 266.72 L238.3 267.31 L239.8 267.91 L241.3 268.5 L242.8 269.1 L244.3 269.7 L245.8 270.31 L247.3 270.93 L248.8 271.56 L250.3 272.2 L251.8 272.86 L253.3 273.54 L254.8 274.23 L256.3 274.95 L257.8 275.69 L259.3 276.46 L260.8 277.26 L262.3 278.08 L263.8 278.92 L265.3 279.79 L266.8 280.67 L268.3 281.58 L269.8 282.5 L271.3 283.43 L272.8 284.37 L274.3 285.33 L275.8 286.3 L277.3 287.27 L278.8 288.25 L280.3 289.23 L281.8 290.21 L283.3 291.19 L284.8 292.17 L286.3 293.14 L287.8 294.11 L289.3 295.07 L290.8 296.02 L292.3 296.96 L293.8 297.89 L295.3 298.8 L296.8 299.7 L298.3 300.59 L299.8 301.48 L301.3 302.35 L302.8 303.23 L304.3 304.1 L305.8 304.97 L307.3 305.83 L308.8 306.69 L310.3 307.55 L311.8 308.41 L313.3 309.27 L314.8 310.13 L316.3 310.99 L317.8 311.85 L319.3 312.72 L320.8 313.58 L322.3 314.46 L323.8 315.33 L325.3 316.22 L326.8 317.1 L328.3 318 L329.8 318.9 L331.3 319.81 L332.8 320.73 L334.3 321.66 L335.8 322.6 L337.3 323.55 L338.8 324.52 L340.3 325.49 L341.8 326.47 L343.3 327.46 L344.8 328.45 L346.3 329.45 L347.8 330.45 L349.3 331.45 L350.8 332.46 L352.3 333.47 L353.8 334.47 L355.3 335.47 L356.8 336.47 L358.3 337.47 L359.8 338.45 L361.3 339.44 L362.8 340.41 L364.3 341.38 L365.8 342.33 L367.3 343.28 L368.8 344.21 L370.3 345.13 L371.8 346.05 L373.3 346.96 L374.8 347.86 L376.3 348.76 L377.8 349.65 L379.3 350.54 L380.8 351.42 L382.3 352.31 L383.8 353.19 L385.3 354.06 L386.8 354.94 L388.3 355.82 L389.8 356.69 L391.3 357.57 L392.8 358.45 L394.3 359.34 L395.8 360.22 L397.3 361.11 L398.8 362.01 L400.3 362.91 L401.8 363.81 L403.3 364.73 L404.8 365.65 L406.3 366.57 L407.8 367.5 L409.3 368.43 L410.8 369.37 L412.3 370.31 L413.8 371.25 L415.3 372.19 L416.8 373.14 L418.3 374.09 L419.8 375.04 L421.3 376 L422 376.44 M187.3 246 L188.8 247.48 L190.3 248.94 L191.8 250.37 L193.3 251.75 L194.8 253.1 L196.3 254.39 L197.8 255.62 L199.3 256.8 L200.8 257.92 L202.3 259.01 L203.8 260.06 L205.3 261.09 L206.8 262.09 L208.3 263.06 L209.8 264.01 L211.3 264.94 L212.8 265.84 L214.3 266.73 L215.8 267.59 L217.3 268.44 L218.8 269.27 L220.3 270.09 L221.8 270.87 L223.3 271.64 L224.8 272.38 L226.3 273.1 L227.8 273.8 L229.3 274.49 L230.8 275.16 L232.3 275.82 L233.8 276.47 L235.3 277.11 L236.8 277.75 L238.3 278.38 L239.8 279.01 L241.3 279.65 L242.8 280.29 L244.3 280.93 L245.8 281.59 L247.3 282.25 L248.8 282.92 L250.3 283.61 L251.8 284.32 L253.3 285.05 L254.8 285.8 L256.3 286.57 L257.8 287.36 L259.3 288.19 L260.8 289.05 L262.3 289.93 L263.8 290.84 L265.3 291.78 L266.8 292.74 L268.3 293.72 L269.8 294.72 L271.3 295.74 L272.8 296.77 L274.3 297.81 L275.8 298.86 L277.3 299.93 L278.8 300.99 L280.3 302.06 L281.8 303.13 L283.3 304.21 L284.8 305.27 L286.3 306.34 L287.8 307.39 L289.3 308.44 L290.8 309.48 L292.3 310.5 L293.8 311.51 L295.3 312.5 L296.8 313.48 L298.3 314.45 L299.8 315.42 L301.3 316.38 L302.8 317.34 L304.3 318.3 L305.8 319.25 L307.3 320.2 L308.8 321.15 L310.3 322.1 L311.8 323.04 L313.3 323.98 L314.8 324.93 L316.3 325.87 L317.8 326.81 L319.3 327.75 L320.8 328.7 L322.3 329.64 L323.8 330.59 L325.3 331.53 L326.8 332.48 L328.3 333.44 L329.8 334.39 L331.3 335.35 L332.8 336.31 L334.3 337.28 L335.8 338.25 L337.3 339.22 L338.8 340.2 L340.3 341.17 L341.8 342.15 L343.3 343.13 L344.8 344.11 L346.3 345.09 L347.8 346.07 L349.3 347.06 L350.8 348.04 L352.3 349.03 L353.8 350.01 L355.3 351 L356.8 351.98 L358.3 352.97 L359.8 353.95 L361.3 354.94 L362.8 355.92 L364.3 356.91 L365.8 357.89 L367.3 358.87 L368.8 359.85 L370.3 360.83 L371.8 361.81 L373.3 362.79 L374.8 363.76 L376.3 364.74 L377.8 365.72 L379.3 366.7 L380.8 367.68 L382.3 368.65 L383.8 369.63 L385.3 370.61 L386.8 371.59 L388.3 372.56 L389.8 373.54 L391.3 374.52 L392.8 375.5 L394.3 376.48 L395.8 377.46 L397.3 378.44 L398.8 379.42 L400.3 380.41 L401.8 381.39 L403.3 382.38 L404.8 383.36 L405 383.49 M187.3 251.2 L188.8 252.68 L190.3 254.13 L191.8 255.56 L193.3 256.95 L194.8 258.3 L196.3 259.61 L197.8 260.87 L199.3 262.07 L200.8 263.23 L202.3 264.36 L203.8 265.46 L205.3 266.53 L206.8 267.57 L208.3 268.59 L209.8 269.59 L211.3 270.57 L212.8 271.53 L214.3 272.48 L215.8 273.41 L217.3 274.33 L218.8 275.24 L220.3 276.14 L221.8 277.01 L223.3 277.87 L224.8 278.71 L226.3 279.54 L227.8 280.35 L229.3 281.15 L230.8 281.93 L232.3 282.71 L233.8 283.48 L235.3 284.24 L236.8 284.99 L238.3 285.75 L239.8 286.5 L241.3 287.25 L242.8 288 L244.3 288.75 L245.8 289.51 L247.3 290.28 L248.8 291.05 L250.3 291.83 L251.8 292.63 L253.3 293.43 L254.8 294.25 L256.3 295.09 L257.8 295.94 L259.3 296.81 L260.8 297.69 L262.3 298.59 L263.8 299.49 L265.3 300.41 L266.8 301.33 L268.3 302.27 L269.8 303.21 L271.3 304.16 L272.8 305.12 L274.3 306.08 L275.8 307.05 L277.3 308.02 L278.8 309 L280.3 309.99 L281.8 310.97 L283.3 311.96 L284.8 312.95 L286.3 313.95 L287.8 314.94 L289.3 315.93 L290.8 316.93 L292.3 317.92 L293.8 318.91 L295.3 319.9 L296.8 320.89 L298.3 321.88 L299.8 322.88 L301.3 323.88 L302.8 324.89 L304.3 325.9 L305.8 326.91 L307.3 327.92 L308.8 328.94 L310.3 329.95 L311.8 330.97 L313.3 332 L314.8 333.02 L316.3 334.04 L317.8 335.07 L319.3 336.09 L320.8 337.12 L322.3 338.14 L323.8 339.17 L325.3 340.19 L326.8 341.22 L328.3 342.24 L329.8 343.26 L331.3 344.28 L332.8 345.29 L334.3 346.31 L335.8 347.33 L337.3 348.34 L338.8 349.36 L340.3 350.38 L341.8 351.41 L343.3 352.43 L344.8 353.45 L346.3 354.47 L347.8 355.49 L349.3 356.52 L350.8 357.54 L352.3 358.55 L353.8 359.57 L355.3 360.59 L356.8 361.6 L358.3 362.61 L359.8 363.62 L361.3 364.63 L362.8 365.63 L364.3 366.63 L365.8 367.63 L367.3 368.62 L368.8 369.6 L370.3 370.58 L371.8 371.56 L373.3 372.52 L374.8 373.48 L376.3 374.44 L377.8 375.39 L379.3 376.34 L380.8 377.29 L382.3 378.23 L383.8 379.18 L385.3 380.12 L386.8 381.07 L388.3 382.02 L389.8 382.97 L391.3 383.92 L392.8 384.88 L394.3 385.84 L395.8 386.81 L397.3 387.78 L398.8 388.76 L399 388.89 M187.3 259 L188.8 260.48 L190.3 261.94 L191.8 263.37 L193.3 264.77 L194.8 266.14 L196.3 267.47 L197.8 268.77 L199.3 270.01 L200.8 271.22 L202.3 272.41 L203.8 273.57 L205.3 274.71 L206.8 275.84 L208.3 276.93 L209.8 278.01 L211.3 279.07 L212.8 280.1 L214.3 281.11 L215.8 282.11 L217.3 283.08 L218.8 284.03 L220.3 284.95 L221.8 285.86 L223.3 286.73 L224.8 287.59 L226.3 288.42 L227.8 289.24 L229.3 290.03 L230.8 290.82 L232.3 291.59 L233.8 292.35 L235.3 293.11 L236.8 293.86 L238.3 294.6 L239.8 295.34 L241.3 296.08 L242.8 296.83 L244.3 297.57 L245.8 298.33 L247.3 299.09 L248.8 299.86 L250.3 300.65 L251.8 301.44 L253.3 302.26 L254.8 303.09 L256.3 303.95 L257.8 304.82 L259.3 305.72 L260.8 306.64 L262.3 307.58 L263.8 308.54 L265.3 309.51 L266.8 310.49 L268.3 311.49 L269.8 312.51 L271.3 313.53 L272.8 314.56 L274.3 315.6 L275.8 316.65 L277.3 317.71 L278.8 318.77 L280.3 319.84 L281.8 320.91 L283.3 321.98 L284.8 323.06 L286.3 324.13 L287.8 325.2 L289.3 326.27 L290.8 327.34 L292.3 328.4 L293.8 329.45 L295.3 330.5 L296.8 331.55 L298.3 332.6 L299.8 333.66 L301.3 334.73 L302.8 335.8 L304.3 336.87 L305.8 337.94 L307.3 339.02 L308.8 340.1 L310.3 341.18 L311.8 342.26 L313.3 343.34 L314.8 344.42 L316.3 345.5 L317.8 346.57 L319.3 347.64 L320.8 348.71 L322.3 349.77 L323.8 350.82 L325.3 351.87 L326.8 352.91 L328.3 353.95 L329.8 354.98 L331.3 355.99 L332.8 357 L334.3 358 L335.8 358.98 L337.3 359.96 L338.8 360.93 L340.3 361.88 L341.8 362.84 L343.3 363.78 L344.8 364.72 L346.3 365.66 L347.8 366.59 L349.3 367.51 L350.8 368.44 L352.3 369.37 L353.8 370.29 L355.3 371.22 L356.8 372.15 L358.3 373.08 L359.8 374.01 L361.3 374.95 L362.8 375.9 L364.3 376.85 L365.8 377.8 L367.3 378.77 L368.8 379.74 L370.3 380.72 L371.8 381.69 L373.3 382.66 L374.8 383.64 L376.3 384.62 L377.8 385.6 L379.3 386.58 L380.8 387.57 L382.3 388.55 L383.8 389.54 L385.3 390.53 L386.8 391.53 L388.3 392.53 L389.8 393.53 L391.3 394.53 L392.8 395.54 L394.3 396.56 L395 397.03 M187.3 267.3 L188.8 268.76 L190.3 270.2 L191.8 271.62 L193.3 273.01 L194.8 274.37 L196.3 275.71 L197.8 277.01 L199.3 278.27 L200.8 279.5 L202.3 280.72 L203.8 281.91 L205.3 283.09 L206.8 284.24 L208.3 285.38 L209.8 286.5 L211.3 287.6 L212.8 288.68 L214.3 289.74 L215.8 290.78 L217.3 291.8 L218.8 292.81 L220.3 293.78 L221.8 294.74 L223.3 295.67 L224.8 296.59 L226.3 297.48 L227.8 298.36 L229.3 299.22 L230.8 300.07 L232.3 300.91 L233.8 301.74 L235.3 302.56 L236.8 303.37 L238.3 304.18 L239.8 304.99 L241.3 305.8 L242.8 306.6 L244.3 307.41 L245.8 308.23 L247.3 309.05 L248.8 309.87 L250.3 310.71 L251.8 311.56 L253.3 312.42 L254.8 313.3 L256.3 314.19 L257.8 315.11 L259.3 316.04 L260.8 316.98 L262.3 317.93 L263.8 318.9 L265.3 319.87 L266.8 320.85 L268.3 321.84 L269.8 322.83 L271.3 323.84 L272.8 324.85 L274.3 325.87 L275.8 326.89 L277.3 327.92 L278.8 328.96 L280.3 330 L281.8 331.05 L283.3 332.1 L284.8 333.15 L286.3 334.21 L287.8 335.27 L289.3 336.33 L290.8 337.4 L292.3 338.46 L293.8 339.53 L295.3 340.6 L296.8 341.68 L298.3 342.76 L299.8 343.86 L301.3 344.97 L302.8 346.08 L304.3 347.2 L305.8 348.33 L307.3 349.47 L308.8 350.61 L310.3 351.75 L311.8 352.9 L313.3 354.04 L314.8 355.19 L316.3 356.34 L317.8 357.49 L319.3 358.63 L320.8 359.77 L322.3 360.91 L323.8 362.04 L325.3 363.17 L326.8 364.29 L328.3 365.4 L329.8 366.5 L331.3 367.59 L332.8 368.67 L334.3 369.74 L335.8 370.8 L337.3 371.85 L338.8 372.89 L340.3 373.93 L341.8 374.96 L343.3 375.98 L344.8 377 L346.3 378.01 L347.8 379.02 L349.3 380.03 L350.8 381.04 L352.3 382.04 L353.8 383.05 L355.3 384.06 L356.8 385.07 L358.3 386.08 L359.8 387.1 L361.3 388.12 L362.8 389.14 L364.3 390.17 L365.8 391.21 L367.3 392.26 L368.8 393.31 L370.3 394.37 L371.8 395.43 L373.3 396.49 L374.8 397.55 L376.3 398.61 L377.8 399.68 L379.3 400.75 L380.8 401.82 L382.3 402.9 L383.8 403.98 L385.3 405.06 L386.8 406.14 L388.3 407.22 L389.8 408.31 L391.3 409.4 L392.8 410.49 L394.3 411.58 L395.8 412.68 L397.3 413.77 L398.8 414.87 L400.3 415.98 L401.8 417.08 L403.3 418.19 L404.8 419.3 L406.3 420.41 L407.8 421.52 L409.3 422.64 L410.8 423.75 L412.3 424.87 L413.8 426 L415.3 427.12 L416.5 428.02 M187.3 279.5 L188.8 280.97 L190.3 282.42 L191.8 283.85 L193.3 285.25 L194.8 286.63 L196.3 287.97 L197.8 289.28 L199.3 290.56 L200.8 291.8 L202.3 293.01 L203.8 294.2 L205.3 295.38 L206.8 296.53 L208.3 297.66 L209.8 298.78 L211.3 299.88 L212.8 300.97 L214.3 302.04 L215.8 303.1 L217.3 304.15 L218.8 305.19 L220.3 306.22 L221.8 307.23 L223.3 308.22 L224.8 309.19 L226.3 310.15 L227.8 311.1 L229.3 312.04 L230.8 312.97 L232.3 313.88 L233.8 314.79 L235.3 315.7 L236.8 316.6 L238.3 317.49 L239.8 318.39 L241.3 319.28 L242.8 320.18 L244.3 321.08 L245.8 321.98 L247.3 322.89 L248.8 323.81 L250.3 324.74 L251.8 325.68 L253.3 326.63 L254.8 327.59 L256.3 328.57 L257.8 329.56 L259.3 330.57 L260.8 331.6 L262.3 332.63 L263.8 333.68 L265.3 334.73 L266.8 335.79 L268.3 336.86 L269.8 337.94 L271.3 339.03 L272.8 340.12 L274.3 341.22 L275.8 342.33 L277.3 343.44 L278.8 344.56 L280.3 345.68 L281.8 346.8 L283.3 347.93 L284.8 349.06 L286.3 350.19 L287.8 351.33 L289.3 352.46 L290.8 353.6 L292.3 354.73 L293.8 355.87 L295.3 357 L296.8 358.14 L298.3 359.29 L299.8 360.44 L301.3 361.61 L302.8 362.78 L304.3 363.96 L305.8 365.14 L307.3 366.33 L308.8 367.52 L310.3 368.71 L311.8 369.9 L313.3 371.1 L314.8 372.29 L316.3 373.49 L317.8 374.68 L319.3 375.87 L320.8 377.05 L322.3 378.23 L323.8 379.4 L325.3 380.56 L326.8 381.72 L328.3 382.87 L329.8 384.01 L331.3 385.14 L332.8 386.26 L334.3 387.36 L335.8 388.45 L337.3 389.53 L338.8 390.6 L340.3 391.66 L341.8 392.71 L343.3 393.76 L344.8 394.8 L346.3 395.83 L347.8 396.86 L349.3 397.89 L350.8 398.91 L352.3 399.94 L353.8 400.97 L355.3 402 L356.8 403.03 L358.3 404.07 L359.8 405.11 L361.3 406.16 L362.8 407.22 L364.3 408.29 L365.8 409.36 L367.3 410.45 L368.8 411.55 L370.3 412.66 L371.8 413.78 L373.3 414.9 L374.8 416.02 L376.3 417.16 L377.8 418.29 L379.3 419.43 L380.8 420.58 L382.3 421.73 L383.8 422.88 L385.3 424.04 L386.8 425.2 L388.3 426.36 L389.8 427.53 L391.3 428.69 L392.8 429.86 L394.3 431.03 L395.8 432.2 L397.3 433.37 L398.8 434.54 L400.3 435.71 L401.8 436.88 L403.3 438.05 L404 438.59 M187.3 288 L188.8 289.46 L190.3 290.91 L191.8 292.33 L193.3 293.73 L194.8 295.1 L196.3 296.44 L197.8 297.75 L199.3 299.01 L200.8 300.25 L202.3 301.46 L203.8 302.66 L205.3 303.83 L206.8 304.98 L208.3 306.12 L209.8 307.24 L211.3 308.34 L212.8 309.42 L214.3 310.49 L215.8 311.54 L217.3 312.57 L218.8 313.6 L220.3 314.6 L221.8 315.58 L223.3 316.54 L224.8 317.48 L226.3 318.39 L227.8 319.3 L229.3 320.18 L230.8 321.06 L232.3 321.92 L233.8 322.78 L235.3 323.62 L236.8 324.47 L238.3 325.31 L239.8 326.15 L241.3 326.99 L242.8 327.84 L244.3 328.69 L245.8 329.55 L247.3 330.42 L248.8 331.31 L250.3 332.2 L251.8 333.11 L253.3 334.04 L254.8 334.99 L256.3 335.96 L257.8 336.96 L259.3 337.98 L260.8 339.03 L262.3 340.1 L263.8 341.19 L265.3 342.31 L266.8 343.44 L268.3 344.59 L269.8 345.76 L271.3 346.94 L272.8 348.14 L274.3 349.34 L275.8 350.55 L277.3 351.77 L278.8 353 L280.3 354.23 L281.8 355.47 L283.3 356.7 L284.8 357.93 L286.3 359.16 L287.8 360.39 L289.3 361.61 L290.8 362.82 L292.3 364.03 L293.8 365.22 L295.3 366.4 L296.8 367.57 L298.3 368.75 L299.8 369.93 L301.3 371.1 L302.8 372.28 L304.3 373.46 L305.8 374.63 L307.3 375.81 L308.8 376.99 L310.3 378.16 L311.8 379.34 L313.3 380.51 L314.8 381.69 L316.3 382.86 L317.8 384.02 L319.3 385.19 L320.8 386.36 L322.3 387.52 L323.8 388.67 L325.3 389.83 L326.8 390.98 L328.3 392.13 L329.8 393.27 L331.3 394.41 L332.8 395.55 L334.3 396.68 L335.8 397.8 L337.3 398.9 L338.8 400 L340.3 401.1 L341.8 402.18 L343.3 403.26 L344.8 404.34 L346.3 405.42 L347.8 406.49 L349.3 407.56 L350.8 408.63 L352.3 409.71 L353.8 410.79 L355.3 411.87 L356.8 412.96 L358.3 414.06 L359.8 415.16 L361.3 416.27 L362.8 417.4 L364.3 418.53 L365.8 419.68 L367.3 420.84 L368.8 422.02 L370.3 423.22 L371.8 424.43 L373.3 425.65 L374.8 426.89 L376.3 428.14 L377.8 429.4 L379.3 430.67 L380.8 431.94 L382.3 433.23 L383.8 434.51 L385 435.54 M187.3 295.8 L188.8 297.35 L190.3 298.88 L191.8 300.38 L193.3 301.86 L194.8 303.31 L196.3 304.73 L197.8 306.11 L199.3 307.45 L200.8 308.76 L202.3 310.04 L203.8 311.3 L205.3 312.54 L206.8 313.76 L208.3 314.96 L209.8 316.14 L211.3 317.3 L212.8 318.45 L214.3 319.58 L215.8 320.69 L217.3 321.79 L218.8 322.87 L220.3 323.94 L221.8 324.98 L223.3 326.01 L224.8 327.01 L226.3 328 L227.8 328.97 L229.3 329.93 L230.8 330.88 L232.3 331.81 L233.8 332.74 L235.3 333.65 L236.8 334.57 L238.3 335.48 L239.8 336.39 L241.3 337.3 L242.8 338.21 L244.3 339.12 L245.8 340.04 L247.3 340.97 L248.8 341.91 L250.3 342.86 L251.8 343.82 L253.3 344.8 L254.8 345.79 L256.3 346.81 L257.8 347.84 L259.3 348.89 L260.8 349.97 L262.3 351.05 L263.8 352.16 L265.3 353.27 L266.8 354.4 L268.3 355.54 L269.8 356.69 L271.3 357.86 L272.8 359.03 L274.3 360.21 L275.8 361.39 L277.3 362.58 L278.8 363.78 L280.3 364.98 L281.8 366.19 L283.3 367.39 L284.8 368.6 L286.3 369.81 L287.8 371.01 L289.3 372.22 L290.8 373.42 L292.3 374.62 L293.8 375.81 L295.3 377 L296.8 378.19 L298.3 379.37 L299.8 380.56 L301.3 381.75 L302.8 382.95 L304.3 384.14 L305.8 385.34 L307.3 386.54 L308.8 387.74 L310.3 388.94 L311.8 390.14 L313.3 391.34 L314.8 392.55 L316.3 393.75 L317.8 394.95 L319.3 396.16 L320.8 397.37 L322.3 398.57 L323.8 399.78 L325.3 400.99 L326.8 402.19 L328.3 403.4 L329.8 404.61 L331.3 405.81 L332.8 407.02 L334.3 408.22 L335.8 409.43 L337.3 410.65 L338.8 411.86 L340.3 413.08 L341.8 414.3 L343.3 415.53 L344.8 416.75 L346.3 417.98 L347.8 419.2 L349.3 420.42 L350.8 421.64 L352.3 422.86 L353.8 424.08 L355.3 425.3 L356.8 426.51 L358.3 427.72 L359.8 428.92 L361.3 430.12 L362.8 431.31 L364.3 432.49 L365.8 433.67 L367.3 434.84 L368.8 436.01 L370.3 437.15 L371.8 438.29 L373.3 439.41 L374 439.93 M187.3 305 L188.8 306.51 L190.3 308.01 L191.8 309.48 L193.3 310.93 L194.8 312.35 L196.3 313.73 L197.8 315.08 L199.3 316.4 L200.8 317.67 L202.3 318.92 L203.8 320.14 L205.3 321.34 L206.8 322.52 L208.3 323.68 L209.8 324.82 L211.3 325.95 L212.8 327.07 L214.3 328.17 L215.8 329.28 L217.3 330.37 L218.8 331.46 L220.3 332.55 L221.8 333.62 L223.3 334.68 L224.8 335.72 L226.3 336.75 L227.8 337.76 L229.3 338.77 L230.8 339.77 L232.3 340.76 L233.8 341.74 L235.3 342.72 L236.8 343.7 L238.3 344.68 L239.8 345.66 L241.3 346.64 L242.8 347.62 L244.3 348.61 L245.8 349.6 L247.3 350.61 L248.8 351.62 L250.3 352.65 L251.8 353.69 L253.3 354.74 L254.8 355.81 L256.3 356.9 L257.8 358 L259.3 359.13 L260.8 360.28 L262.3 361.45 L263.8 362.63 L265.3 363.84 L266.8 365.06 L268.3 366.3 L269.8 367.55 L271.3 368.81 L272.8 370.08 L274.3 371.36 L275.8 372.64 L277.3 373.93 L278.8 375.23 L280.3 376.53 L281.8 377.82 L283.3 379.12 L284.8 380.42 L286.3 381.71 L287.8 383 L289.3 384.28 L290.8 385.55 L292.3 386.81 L293.8 388.06 L295.3 389.3 L296.8 390.53 L298.3 391.75 L299.8 392.98 L301.3 394.19 L302.8 395.41 L304.3 396.62 L305.8 397.83 L307.3 399.03 L308.8 400.24 L310.3 401.44 L311.8 402.64 L313.3 403.85 L314.8 405.05 L316.3 406.25 L317.8 407.45 L319.3 408.65 L320.8 409.85 L322.3 411.05 L323.8 412.25 L325.3 413.45 L326.8 414.66 L328.3 415.87 L329.8 417.08 L331.3 418.3 L332.8 419.51 L334.3 420.73 L335.8 421.95 L337.3 423.17 L338.8 424.4 L340.3 425.62 L341.8 426.84 L343.3 428.06 L344.8 429.29 L346.3 430.51 L347.8 431.74 L349.3 432.97 L350.8 434.2 L352.3 435.43 L353.8 436.66 L355.3 437.89 L356.8 439.13 L358.3 440.37 L359.8 441.61 L361.3 442.85 L362.8 444.09 L364.3 445.34 L365.8 446.58 L367 447.58 M187.3 316 L188.8 317.63 L190.3 319.23 L191.8 320.82 L193.3 322.37 L194.8 323.89 L196.3 325.38 L197.8 326.83 L199.3 328.24 L200.8 329.61 L202.3 330.95 L203.8 332.26 L205.3 333.54 L206.8 334.8 L208.3 336.04 L209.8 337.26 L211.3 338.47 L212.8 339.67 L214.3 340.86 L215.8 342.05 L217.3 343.24 L218.8 344.42 L220.3 345.61 L221.8 346.79 L223.3 347.95 L224.8 349.11 L226.3 350.25 L227.8 351.38 L229.3 352.51 L230.8 353.63 L232.3 354.75 L233.8 355.86 L235.3 356.96 L236.8 358.07 L238.3 359.17 L239.8 360.27 L241.3 361.38 L242.8 362.48 L244.3 363.59 L245.8 364.7 L247.3 365.82 L248.8 366.94 L250.3 368.07 L251.8 369.21 L253.3 370.36 L254.8 371.51 L256.3 372.68 L257.8 373.86 L259.3 375.06 L260.8 376.26 L262.3 377.47 L263.8 378.69 L265.3 379.92 L266.8 381.16 L268.3 382.4 L269.8 383.65 L271.3 384.9 L272.8 386.16 L274.3 387.42 L275.8 388.69 L277.3 389.96 L278.8 391.24 L280.3 392.52 L281.8 393.8 L283.3 395.09 L284.8 396.38 L286.3 397.66 L287.8 398.95 L289.3 400.24 L290.8 401.53 L292.3 402.82 L293.8 404.11 L295.3 405.4 L296.8 406.69 L298.3 407.98 L299.8 409.27 L301.3 410.56 L302.8 411.85 L304.3 413.14 L305.8 414.44 L307.3 415.74 L308.8 417.04 L310.3 418.34 L311.8 419.64 L313.3 420.95 L314.8 422.26 L316.3 423.57 L317.8 424.88 L319.3 426.2 L320.8 427.52 L322.3 428.84 L323.8 430.17 L325.3 431.5 L326.8 432.83 L328.3 434.17 L329.8 435.51 L331.3 436.86 L332.8 438.21 L334.3 439.57 L335.8 440.93 L337.3 442.31 L338.8 443.71 L340.3 445.11 L341.8 446.52 L343.3 447.93 L344.8 449.35 L346.3 450.77 L347.8 452.2 L349.3 453.63 L350.8 455.05 L352.3 456.48 L353.8 457.9 L355.3 459.32 L356.8 460.73 L358.3 462.13 L359.8 463.53 L361.3 464.91 L362.8 466.28 L364.3 467.65 L365.8 468.99 L367.3 470.32 L367.5 470.5 M187.3 331.3 L188.8 332.91 L190.3 334.5 L191.8 336.07 L193.3 337.6 L194.8 339.11 L196.3 340.59 L197.8 342.02 L199.3 343.42 L200.8 344.77 L202.3 346.08 L203.8 347.36 L205.3 348.61 L206.8 349.84 L208.3 351.05 L209.8 352.25 L211.3 353.43 L212.8 354.62 L214.3 355.8 L215.8 356.99 L217.3 358.19 L218.8 359.41 L220.3 360.64 L221.8 361.87 L223.3 363.1 L224.8 364.33 L226.3 365.56 L227.8 366.78 L229.3 368.01 L230.8 369.23 L232.3 370.46 L233.8 371.68 L235.3 372.91 L236.8 374.13 L238.3 375.36 L239.8 376.59 L241.3 377.83 L242.8 379.07 L244.3 380.31 L245.8 381.55 L247.3 382.8 L248.8 384.06 L250.3 385.32 L251.8 386.58 L253.3 387.85 L254.8 389.13 L256.3 390.42 L257.8 391.71 L259.3 393.01 L260.8 394.32 L262.3 395.63 L263.8 396.96 L265.3 398.29 L266.8 399.63 L268.3 400.98 L269.8 402.33 L271.3 403.69 L272.8 405.05 L274.3 406.42 L275.8 407.79 L277.3 409.17 L278.8 410.54 L280.3 411.92 L281.8 413.3 L283.3 414.68 L284.8 416.06 L286.3 417.44 L287.8 418.83 L289.3 420.2 L290.8 421.58 L292.3 422.96 L293.8 424.33 L295.3 425.7 L296.8 427.06 L298.3 428.43 L299.8 429.78 L301.3 431.14 L302.8 432.49 L304.3 433.84 L305.8 435.18 L307.3 436.53 L308.8 437.88 L310.3 439.23 L311.8 440.58 L313.3 441.93 L314.8 443.29 L316.3 444.65 L317.8 446.01 L319.3 447.38 L320.8 448.75 L322.3 450.13 L323.8 451.52 L325.3 452.91 L326.8 454.31 L328.3 455.73 L329.8 457.15 L331.3 458.58 L332.8 460.02 L334.3 461.48 L335.8 462.95 L337.3 464.44 L338.8 465.95 L340.3 467.47 L341.8 469 L343.3 470.54 L344.8 472.08 L346.3 473.63 L347.8 475.17 L349.3 476.72 L350.8 478.26 L352.3 479.79 L353 480.5 M187.3 345.6 L188.8 347.18 L190.3 348.73 L191.8 350.27 L193.3 351.77 L194.8 353.25 L196.3 354.69 L197.8 356.1 L199.3 357.46 L200.8 358.78 L202.3 360.07 L203.8 361.32 L205.3 362.54 L206.8 363.73 L208.3 364.91 L209.8 366.08 L211.3 367.23 L212.8 368.39 L214.3 369.55 L215.8 370.72 L217.3 371.91 L218.8 373.11 L220.3 374.34 L221.8 375.56 L223.3 376.79 L224.8 378.02 L226.3 379.24 L227.8 380.47 L229.3 381.7 L230.8 382.93 L232.3 384.17 L233.8 385.4 L235.3 386.64 L236.8 387.88 L238.3 389.13 L239.8 390.38 L241.3 391.63 L242.8 392.89 L244.3 394.15 L245.8 395.42 L247.3 396.69 L248.8 397.97 L250.3 399.26 L251.8 400.55 L253.3 401.85 L254.8 403.15 L256.3 404.47 L257.8 405.79 L259.3 407.12 L260.8 408.46 L262.3 409.81 L263.8 411.17 L265.3 412.54 L266.8 413.91 L268.3 415.29 L269.8 416.68 L271.3 418.08 L272.8 419.48 L274.3 420.89 L275.8 422.31 L277.3 423.72 L278.8 425.15 L280.3 426.58 L281.8 428.01 L283.3 429.44 L284.8 430.88 L286.3 432.32 L287.8 433.77 L289.3 435.21 L290.8 436.66 L292.3 438.1 L293.8 439.55 L295.3 441 L296.8 442.45 L298.3 443.92 L299.8 445.4 L301.3 446.89 L302.8 448.39 L304.3 449.89 L305.8 451.41 L307.3 452.92 L308.8 454.45 L310.3 455.97 L311.8 457.49 L313.3 459.02 L314.8 460.54 L316.3 462.06 L317.8 463.58 L319.3 465.09 L320.8 466.59 L322.3 468.09 L323.8 469.58 L325.3 471.06 L326.8 472.52 L328.3 473.98 L329.8 475.41 L331.3 476.84 L332.8 478.24 L334.3 479.61 L335.3 480.5 M187.3 357.3 L188.8 358.89 L190.3 360.47 L191.8 362.02 L193.3 363.54 L194.8 365.03 L196.3 366.49 L197.8 367.91 L199.3 369.29 L200.8 370.62 L202.3 371.91 L203.8 373.17 L205.3 374.39 L206.8 375.59 L208.3 376.77 L209.8 377.94 L211.3 379.1 L212.8 380.27 L214.3 381.45 L215.8 382.64 L217.3 383.85 L218.8 385.09 L220.3 386.37 L221.8 387.64 L223.3 388.93 L224.8 390.22 L226.3 391.51 L227.8 392.81 L229.3 394.12 L230.8 395.43 L232.3 396.74 L233.8 398.07 L235.3 399.4 L236.8 400.73 L238.3 402.07 L239.8 403.42 L241.3 404.78 L242.8 406.14 L244.3 407.51 L245.8 408.89 L247.3 410.28 L248.8 411.67 L250.3 413.08 L251.8 414.49 L253.3 415.91 L254.8 417.34 L256.3 418.78 L257.8 420.22 L259.3 421.68 L260.8 423.16 L262.3 424.65 L263.8 426.16 L265.3 427.68 L266.8 429.22 L268.3 430.77 L269.8 432.34 L271.3 433.91 L272.8 435.49 L274.3 437.08 L275.8 438.68 L277.3 440.28 L278.8 441.89 L280.3 443.5 L281.8 445.11 L283.3 446.72 L284.8 448.33 L286.3 449.94 L287.8 451.55 L289.3 453.15 L290.8 454.75 L292.3 456.34 L293.8 457.93 L295.3 459.5 L296.8 461.07 L298.3 462.64 L299.8 464.21 L301.3 465.77 L302.8 467.34 L304.3 468.91 L305.8 470.47 L307.3 472.04 L308.8 473.61 L310.3 475.17 L311.8 476.74 L313.3 478.31 L314.8 479.87 L315.4 480.5 M187.3 377.4 L188.8 379.39 L190.3 381.35 L191.8 383.28 L193.3 385.18 L194.8 387.04 L196.3 388.86 L197.8 390.63 L199.3 392.35 L200.8 394.03 L202.3 395.67 L203.8 397.28 L205.3 398.85 L206.8 400.4 L208.3 401.93 L209.8 403.43 L211.3 404.92 L212.8 406.39 L214.3 407.84 L215.8 409.28 L217.3 410.71 L218.8 412.13 L220.3 413.55 L221.8 414.94 L223.3 416.32 L224.8 417.68 L226.3 419.03 L227.8 420.36 L229.3 421.68 L230.8 422.98 L232.3 424.28 L233.8 425.57 L235.3 426.85 L236.8 428.13 L238.3 429.4 L239.8 430.67 L241.3 431.94 L242.8 433.21 L244.3 434.48 L245.8 435.76 L247.3 437.04 L248.8 438.33 L250.3 439.62 L251.8 440.93 L253.3 442.24 L254.8 443.57 L256.3 444.91 L257.8 446.27 L259.3 447.64 L260.8 449.03 L262.3 450.42 L263.8 451.83 L265.3 453.24 L266.8 454.66 L268.3 456.09 L269.8 457.53 L271.3 458.97 L272.8 460.41 L274.3 461.86 L275.8 463.32 L277.3 464.77 L278.8 466.23 L280.3 467.69 L281.8 469.16 L283.3 470.62 L284.8 472.08 L286.3 473.54 L287.8 474.99 L289.3 476.45 L290.8 477.9 L292.3 479.35 L293.5 480.5 M187.3 400 L188.8 401.95 L190.3 403.87 L191.8 405.77 L193.3 407.63 L194.8 409.45 L196.3 411.23 L197.8 412.97 L199.3 414.66 L200.8 416.3 L202.3 417.9 L203.8 419.47 L205.3 421.01 L206.8 422.52 L208.3 424.01 L209.8 425.48 L211.3 426.93 L212.8 428.37 L214.3 429.79 L215.8 431.21 L217.3 432.62 L218.8 434.04 L220.3 435.44 L221.8 436.81 L223.3 438.15 L224.8 439.46 L226.3 440.76 L227.8 442.06 L229.3 443.36 L230.8 444.67 L232.3 446 L233.8 447.36 L235.3 448.76 L236.8 450.2 L238.3 451.7 L239.8 453.26 L241.3 454.86 L242.8 456.49 L244.3 458.16 L245.8 459.86 L247.3 461.57 L248.8 463.29 L250.3 465.02 L251.8 466.74 L253.3 468.45 L254.8 470.14 L256.3 471.81 L257.8 473.44 L259.3 475.04 L260.8 476.6 L262.3 478.14 L263.8 479.68 L264.6 480.5"/>
<path stroke-dasharray="3.6 2.7" d="M187.3 98.2 L188.8 99.27 L190.3 100.32 L191.8 101.32 L193.3 102.26 L194.8 103.12 L196.3 103.88 L197.8 104.52 L199.3 105.01 L200.8 105.41 L202.3 105.79 L203.8 106.15 L205.3 106.49 L206.8 106.82 L208.3 107.11 L209.8 107.39 L211.3 107.63 L212.8 107.84 L214.3 108.01 L215.8 108.15 L217.3 108.24 L218.8 108.29 L220.3 108.3 L221.8 108.31 L223.3 108.32 L224.8 108.32 L226.3 108.33 L227.8 108.33 L229.3 108.34 L230.8 108.34 L232.3 108.34 L233.8 108.35 L235.3 108.35 L236.8 108.35 L238.3 108.35 L239.8 108.35 L241.3 108.36 L242.8 108.36 L244.3 108.36 L245.8 108.36 L247.3 108.36 L248.8 108.37 L250.3 108.37 L251.8 108.37 L253.3 108.38 L254.8 108.38 L256.3 108.39 L257.8 108.4 L259.3 108.41 L260.8 108.44 L262.3 108.5 L263.8 108.58 L265.3 108.69 L266.8 108.82 L268.3 108.96 L269.8 109.13 L271.3 109.31 L272.8 109.51 L274.3 109.73 L275.8 109.96 L277.3 110.2 L278.8 110.45 L280.3 110.7 L281.8 110.97 L283.3 111.24 L284.8 111.52 L286.3 111.81 L287.8 112.09 L289.3 112.38 L290.8 112.66 L292.3 112.94 L293.8 113.22 L295.3 113.5 L296.8 113.78 L298.3 114.08 L299.8 114.39 L301.3 114.72 L302.8 115.07 L304.3 115.42 L305.8 115.79 L307.3 116.17 L308.8 116.56 L310.3 116.96 L311.8 117.37 L313.3 117.78 L314.8 118.2 L316.3 118.63 L317.8 119.06 L319.3 119.5 L320.8 119.94 L322.3 120.38 L323.8 120.82 L325.3 121.26 L326.8 121.7 L328.3 122.14 L329.8 122.57 L331.3 123 L332.8 123.43 L334.3 123.85 L335.8 124.29 L337.3 124.73 L338.8 125.18 L340.3 125.63 L341.8 126.09 L343.3 126.55 L344.8 127.02 L346.3 127.49 L347.8 127.96 L349.3 128.43 L350.8 128.9 L352.3 129.37 L353.8 129.83 L355.3 130.29 L356.8 130.75 L358.3 131.2 L359.8 131.65 L361.3 132.09 L362.8 132.52 L364.3 132.94 L365.8 133.35 L367.3 133.75 L368.8 134.14 L370.3 134.51 L371.8 134.88 L373.3 135.25 L374.8 135.6 L376.3 135.95 L377.8 136.3 L379.3 136.64 L380.8 136.97 L382.3 137.31 L383.8 137.64 L385.3 137.97 L386.8 138.29 L388.3 138.62 L389.8 138.95 L391.3 139.28 L392.8 139.61 L394.3 139.94 L395.8 140.28 L397.3 140.62 L398.8 140.96 L400.3 141.31 L401.8 141.67 L403.3 142.03 L404.8 142.4 L406.3 142.78 L407.8 143.16 L409.3 143.54 L410.8 143.93 L412.3 144.32 L413.8 144.71 L415.3 145.11 L416.8 145.51 L418.3 145.92 L419.8 146.32 L421.3 146.73 L422.8 147.14 L424.3 147.55 L425.8 147.96 L427.3 148.37 L428.8 148.79 L430.3 149.2 L431.8 149.61 L433.3 150.03 L434.8 150.44 L436.3 150.85 L437.8 151.26 L439.3 151.67 L440.8 152.08 L442.3 152.49 L443.8 152.9 L445.3 153.32 L446.8 153.73 L448.3 154.15 L449.8 154.56 L451.3 154.98 L452.8 155.4 L454.3 155.82 L455.8 156.24 L457.3 156.66 L458.8 157.08 L460.3 157.5 L461.8 157.92 L463.3 158.34 L464.8 158.75 L466.3 159.17 L467.8 159.58 L469.3 159.99 L470.8 160.4 L472.3 160.81 L473.8 161.21 L475.3 161.62 L476.8 162.01 L478.3 162.41 L479.8 162.8 L481.3 163.19 L482.8 163.57 L484.3 163.95 L485.8 164.32 L487.3 164.69 L488.8 165.06 L490.3 165.42 L491.8 165.78 L493.3 166.15 L494.8 166.51 L496.3 166.86 L497.8 167.22 L499.3 167.58 L500.8 167.94 L502.3 168.3 L503.8 168.67 L505.3 169.03 L506.8 169.4 L508.3 169.77 L509.8 170.14 L511.3 170.52 L512.8 170.9 L514.3 171.29 L515.8 171.68 L517.3 172.08 L518.8 172.48 L520.3 172.88 L521.8 173.29 L523.3 173.7 L524.8 174.12 L526.3 174.54 L527.8 174.96 L529.3 175.38 L530.8 175.8 L532.3 176.23 L533.8 176.66 L535.3 177.08 L536.8 177.51 L538.3 177.94 L539.8 178.37 L541.3 178.8 L542.8 179.23 L544.3 179.66 L545.8 180.09 L547.3 180.51 L548.8 180.94 L550.3 181.36 L551.8 181.78 L553.3 182.2 L554.8 182.62 L556.3 183.04 L557 183.24 M187.3 107.6 L188.8 108.58 L190.3 109.54 L191.8 110.47 L193.3 111.33 L194.8 112.13 L196.3 112.83 L197.8 113.43 L199.3 113.89 L200.8 114.27 L202.3 114.62 L203.8 114.96 L205.3 115.27 L206.8 115.56 L208.3 115.83 L209.8 116.08 L211.3 116.31 L212.8 116.51 L214.3 116.69 L215.8 116.84 L217.3 116.97 L218.8 117.07 L220.3 117.15 L221.8 117.21 L223.3 117.28 L224.8 117.33 L226.3 117.38 L227.8 117.43 L229.3 117.47 L230.8 117.51 L232.3 117.54 L233.8 117.57 L235.3 117.6 L236.8 117.63 L238.3 117.65 L239.8 117.68 L241.3 117.7 L242.8 117.73 L244.3 117.76 L245.8 117.79 L247.3 117.82 L248.8 117.85 L250.3 117.89 L251.8 117.94 L253.3 117.98 L254.8 118.04 L256.3 118.1 L257.8 118.16 L259.3 118.24 L260.8 118.34 L262.3 118.46 L263.8 118.61 L265.3 118.78 L266.8 118.97 L268.3 119.18 L269.8 119.41 L271.3 119.65 L272.8 119.92 L274.3 120.19 L275.8 120.48 L277.3 120.78 L278.8 121.09 L280.3 121.41 L281.8 121.74 L283.3 122.07 L284.8 122.41 L286.3 122.75 L287.8 123.1 L289.3 123.44 L290.8 123.79 L292.3 124.13 L293.8 124.47 L295.3 124.8 L296.8 125.14 L298.3 125.49 L299.8 125.86 L301.3 126.24 L302.8 126.63 L304.3 127.03 L305.8 127.44 L307.3 127.86 L308.8 128.29 L310.3 128.73 L311.8 129.17 L313.3 129.62 L314.8 130.07 L316.3 130.53 L317.8 130.99 L319.3 131.45 L320.8 131.91 L322.3 132.38 L323.8 132.84 L325.3 133.31 L326.8 133.77 L328.3 134.23 L329.8 134.68 L331.3 135.13 L332.8 135.57 L334.3 136.01 L335.8 136.45 L337.3 136.9 L338.8 137.34 L340.3 137.78 L341.8 138.23 L343.3 138.68 L344.8 139.12 L346.3 139.57 L347.8 140.02 L349.3 140.47 L350.8 140.92 L352.3 141.37 L353.8 141.82 L355.3 142.27 L356.8 142.72 L358.3 143.16 L359.8 143.61 L361.3 144.06 L362.8 144.51 L364.3 144.95 L365.8 145.4 L367.3 145.84 L368.8 146.28 L370.3 146.73 L371.8 147.17 L373.3 147.62 L374.8 148.06 L376.3 148.51 L377.8 148.95 L379.3 149.4 L380.8 149.84 L382.3 150.28 L383.8 150.73 L385.3 151.17 L386.8 151.61 L388.3 152.05 L389.8 152.49 L391.3 152.93 L392.8 153.37 L394.3 153.81 L395.8 154.24 L397.3 154.68 L398.8 155.11 L400.3 155.54 L401.8 155.96 L403.3 156.39 L404.8 156.81 L406.3 157.23 L407.8 157.65 L409.3 158.07 L410.8 158.49 L412.3 158.9 L413.8 159.31 L415.3 159.72 L416.8 160.13 L418.3 160.54 L419.8 160.95 L421.3 161.36 L422.8 161.76 L424.3 162.17 L425.8 162.57 L427.3 162.97 L428.8 163.38 L430.3 163.78 L431.8 164.18 L433.3 164.58 L434.8 164.98 L436.3 165.38 L437.8 165.78 L439.3 166.18 L440.8 166.58 L442.3 166.98 L443.8 167.37 L445.3 167.76 L446.8 168.15 L448.3 168.54 L449.8 168.92 L451.3 169.31 L452.8 169.69 L454.3 170.07 L455.8 170.45 L457.3 170.83 L458.8 171.21 L460.3 171.59 L461.8 171.98 L463.3 172.36 L464.8 172.75 L466.3 173.14 L467.8 173.53 L469.3 173.92 L470.8 174.32 L472.3 174.72 L473.8 175.13 L475.3 175.54 L476.8 175.95 L478.3 176.37 L479.8 176.8 L481.3 177.23 L482.8 177.67 L484.3 178.12 L485.8 178.57 L487.3 179.03 L488.8 179.5 L490.3 179.97 L491.8 180.44 L493.3 180.92 L494.8 181.4 L496.3 181.88 L497.8 182.36 L499.3 182.85 L500.8 183.33 L502.3 183.82 L503.8 184.3 L505.3 184.79 L506.8 185.27 L508.3 185.75 L509.8 186.22 L511.3 186.7 L512.8 187.17 L514.3 187.63 L515.8 188.09 L517.3 188.55 L518.8 189 L520.3 189.46 L521.8 189.91 L523.3 190.36 L524.8 190.81 L526.3 191.25 L527.8 191.7 L529.3 192.15 L530.8 192.59 L532.3 193.03 L533.8 193.48 L535.3 193.92 L536.8 194.36 L538.3 194.8 L539.8 195.25 L541.3 195.69 L542.8 196.13 L544.3 196.57 L545.8 197.02 L547.3 197.46 L548.8 197.91 L550.3 198.35 L551.8 198.8 L553.3 199.24 L554.8 199.69 L556.3 200.14 L557 200.34 M333 151.68 L334.3 152.07 L335.8 152.53 L337.3 152.99 L338.8 153.45 L340.3 153.91 L341.8 154.37 L343.3 154.83 L344.8 155.29 L346.3 155.76 L347.8 156.22 L349.3 156.68 L350.8 157.15 L352.3 157.61 L353.8 158.08 L355.3 158.54 L356.8 159.01 L358.3 159.47 L359.8 159.93 L361.3 160.4 L362.8 160.86 L364.3 161.32 L365.8 161.78 L367.3 162.24 L368.8 162.7 L370.3 163.16 L371.8 163.61 L373.3 164.07 L374.8 164.53 L376.3 164.98 L377.8 165.44 L379.3 165.89 L380.8 166.35 L382.3 166.8 L383.8 167.26 L385.3 167.71 L386.8 168.16 L388.3 168.62 L389.8 169.07 L391.3 169.53 L392.8 169.98 L394.3 170.44 L395.8 170.89 L397.3 171.34 L398.8 171.8 L400.3 172.25 L401.8 172.71 L403.3 173.17 L404.8 173.62 L406.3 174.08 L407.8 174.53 L409.3 174.99 L410.8 175.44 L412.3 175.9 L413.8 176.35 L415.3 176.81 L416.8 177.26 L418.3 177.72 L419.8 178.17 L421.3 178.63 L422.8 179.09 L424.3 179.54 L425.8 180 L427.3 180.45 L428.8 180.91 L430.3 181.37 L431.8 181.83 L433.3 182.29 L434.8 182.75 L436.3 183.21 L437.8 183.67 L439.3 184.13 L440.8 184.59 L442.3 185.06 L443.8 185.53 L445.3 186 L446.8 186.47 L448.3 186.94 L449.8 187.42 L451.3 187.9 L452.8 188.38 L454.3 188.85 L455.8 189.33 L457.3 189.81 L458.8 190.29 L460.3 190.77 L461.8 191.25 L463.3 191.73 L464.8 192.2 L466.3 192.67 L467.8 193.14 L469.3 193.61 L470.8 194.08 L472.3 194.54 L473.8 195 L475.3 195.46 L476.8 195.91 L478.3 196.36 L479.8 196.8 L481.3 197.24 L482.8 197.67 L484.3 198.09 L485.8 198.51 L487.3 198.92 L488.8 199.33 L490.3 199.73 L491.8 200.13 L493.3 200.53 L494.8 200.93 L496.3 201.32 L497.8 201.72 L499.3 202.12 L500.8 202.52 L502.3 202.92 L503.8 203.33 L505.3 203.74 L506.8 204.16 L508.3 204.58 L509.8 205 L511.3 205.44 L512.8 205.88 L514.3 206.33 L515.8 206.79 L517.3 207.26 L518.8 207.74 L520.3 208.23 L521.8 208.73 L523.3 209.23 L524.8 209.74 L526.3 210.26 L527.8 210.78 L529.3 211.31 L530.8 211.84 L532.3 212.37 L533.8 212.91 L535.3 213.45 L536.8 213.99 L538.3 214.53 L539.8 215.07 L541.3 215.62 L542.8 216.16 L544.3 216.7 L545.8 217.23 L547.3 217.77 L548.8 218.3 L550.3 218.83 L551.8 219.35 L553.3 219.87 L554.8 220.39 L556.3 220.92 L557 221.16 M385 181.12 L385.3 181.21 L386.8 181.68 L388.3 182.15 L389.8 182.62 L391.3 183.09 L392.8 183.56 L394.3 184.03 L395.8 184.5 L397.3 184.97 L398.8 185.44 L400.3 185.91 L401.8 186.38 L403.3 186.85 L404.8 187.33 L406.3 187.8 L407.8 188.26 L409.3 188.73 L410.8 189.2 L412.3 189.67 L413.8 190.13 L415.3 190.6 L416.8 191.06 L418.3 191.53 L419.8 192 L421.3 192.46 L422.8 192.93 L424.3 193.4 L425.8 193.86 L427.3 194.33 L428.8 194.8 L430.3 195.27 L431.8 195.74 L433.3 196.21 L434.8 196.69 L436.3 197.16 L437.8 197.64 L439.3 198.12 L440.8 198.6 L442.3 199.08 L443.8 199.56 L445.3 200.05 L446.8 200.54 L448.3 201.03 L449.8 201.53 L451.3 202.02 L452.8 202.52 L454.3 203.01 L455.8 203.51 L457.3 204.01 L458.8 204.51 L460.3 205.01 L461.8 205.5 L463.3 206 L464.8 206.5 L466.3 207 L467.8 207.49 L469.3 207.99 L470.8 208.48 L472.3 208.97 L473.8 209.46 L475.3 209.95 L476.8 210.44 L478.3 210.92 L479.8 211.4 L481.3 211.88 L482.8 212.35 L484.3 212.82 L485.8 213.29 L487.3 213.75 L488.8 214.22 L490.3 214.68 L491.8 215.14 L493.3 215.6 L494.8 216.05 L496.3 216.51 L497.8 216.97 L499.3 217.43 L500.8 217.89 L502.3 218.35 L503.8 218.81 L505.3 219.27 L506.8 219.74 L508.3 220.21 L509.8 220.68 L511.3 221.15 L512.8 221.63 L514.3 222.11 L515.8 222.6 L517.3 223.09 L518.8 223.58 L520.3 224.08 L521.8 224.58 L523.3 225.08 L524.8 225.59 L526.3 226.09 L527.8 226.6 L529.3 227.11 L530.8 227.63 L532.3 228.14 L533.8 228.66 L535.3 229.17 L536.8 229.69 L538.3 230.21 L539.8 230.72 L541.3 231.24 L542.8 231.76 L544.3 232.28 L545.8 232.79 L547.3 233.31 L548.8 233.82 L550.3 234.33 L551.8 234.84 L553.3 235.35 L554.8 235.86 L556.3 236.37 L557 236.61 M397 198.47 L397.3 198.57 L398.8 199.06 L400.3 199.55 L401.8 200.04 L403.3 200.54 L404.8 201.03 L406.3 201.53 L407.8 202.03 L409.3 202.53 L410.8 203.03 L412.3 203.54 L413.8 204.04 L415.3 204.55 L416.8 205.05 L418.3 205.56 L419.8 206.07 L421.3 206.58 L422.8 207.08 L424.3 207.59 L425.8 208.1 L427.3 208.61 L428.8 209.11 L430.3 209.62 L431.8 210.12 L433.3 210.62 L434.8 211.12 L436.3 211.62 L437.8 212.11 L439.3 212.61 L440.8 213.1 L442.3 213.59 L443.8 214.07 L445.3 214.56 L446.8 215.04 L448.3 215.52 L449.8 216 L451.3 216.48 L452.8 216.96 L454.3 217.43 L455.8 217.91 L457.3 218.38 L458.8 218.86 L460.3 219.33 L461.8 219.8 L463.3 220.27 L464.8 220.75 L466.3 221.22 L467.8 221.69 L469.3 222.17 L470.8 222.64 L472.3 223.11 L473.8 223.59 L475.3 224.07 L476.8 224.54 L478.3 225.02 L479.8 225.5 L481.3 225.98 L482.8 226.46 L484.3 226.94 L485.8 227.42 L487.3 227.9 L488.8 228.37 L490.3 228.85 L491.8 229.33 L493.3 229.81 L494.8 230.29 L496.3 230.77 L497.8 231.25 L499.3 231.73 L500.8 232.21 L502.3 232.7 L503.8 233.18 L505.3 233.66 L506.8 234.15 L508.3 234.64 L509.8 235.13 L511.3 235.62 L512.8 236.11 L514.3 236.6 L515.8 237.1 L517.3 237.6 L518.8 238.1 L520.3 238.6 L521.8 239.1 L523.3 239.61 L524.8 240.12 L526.3 240.62 L527.8 241.13 L529.3 241.64 L530.8 242.16 L532.3 242.67 L533.8 243.18 L535.3 243.7 L536.8 244.21 L538.3 244.72 L539.8 245.24 L541.3 245.75 L542.8 246.27 L544.3 246.78 L545.8 247.29 L547.3 247.81 L548.8 248.32 L550.3 248.83 L551.8 249.34 L553.3 249.85 L554.8 250.36 L556.3 250.87 L557 251.11 M400 211.1 L400.3 211.21 L401.8 211.76 L403.3 212.3 L404.8 212.84 L406.3 213.39 L407.8 213.93 L409.3 214.47 L410.8 215.01 L412.3 215.55 L413.8 216.09 L415.3 216.63 L416.8 217.17 L418.3 217.7 L419.8 218.24 L421.3 218.78 L422.8 219.31 L424.3 219.84 L425.8 220.37 L427.3 220.91 L428.8 221.43 L430.3 221.96 L431.8 222.49 L433.3 223.01 L434.8 223.53 L436.3 224.05 L437.8 224.57 L439.3 225.09 L440.8 225.6 L442.3 226.11 L443.8 226.62 L445.3 227.12 L446.8 227.62 L448.3 228.12 L449.8 228.61 L451.3 229.11 L452.8 229.6 L454.3 230.09 L455.8 230.57 L457.3 231.06 L458.8 231.55 L460.3 232.03 L461.8 232.52 L463.3 233.01 L464.8 233.49 L466.3 233.98 L467.8 234.47 L469.3 234.97 L470.8 235.46 L472.3 235.96 L473.8 236.46 L475.3 236.96 L476.8 237.47 L478.3 237.98 L479.8 238.5 L481.3 239.02 L482.8 239.55 L484.3 240.08 L485.8 240.61 L487.3 241.14 L488.8 241.68 L490.3 242.23 L491.8 242.77 L493.3 243.32 L494.8 243.86 L496.3 244.41 L497.8 244.96 L499.3 245.51 L500.8 246.07 L502.3 246.62 L503.8 247.17 L505.3 247.72 L506.8 248.26 L508.3 248.81 L509.8 249.35 L511.3 249.9 L512.8 250.44 L514.3 250.97 L515.8 251.51 L517.3 252.04 L518.8 252.57 L520.3 253.1 L521.8 253.62 L523.3 254.15 L524.8 254.67 L526.3 255.2 L527.8 255.72 L529.3 256.24 L530.8 256.76 L532.3 257.28 L533.8 257.8 L535.3 258.32 L536.8 258.84 L538.3 259.36 L539.8 259.88 L541.3 260.4 L542.8 260.92 L544.3 261.44 L545.8 261.96 L547.3 262.48 L548.8 263 L550.3 263.53 L551.8 264.05 L553.3 264.57 L554.8 265.09 L556.3 265.62 L557 265.86 M402 221.08 L403.3 221.58 L404.8 222.15 L406.3 222.73 L407.8 223.31 L409.3 223.89 L410.8 224.47 L412.3 225.05 L413.8 225.63 L415.3 226.21 L416.8 226.79 L418.3 227.37 L419.8 227.95 L421.3 228.52 L422.8 229.1 L424.3 229.67 L425.8 230.25 L427.3 230.82 L428.8 231.38 L430.3 231.95 L431.8 232.51 L433.3 233.07 L434.8 233.63 L436.3 234.18 L437.8 234.73 L439.3 235.27 L440.8 235.81 L442.3 236.34 L443.8 236.87 L445.3 237.39 L446.8 237.9 L448.3 238.41 L449.8 238.92 L451.3 239.43 L452.8 239.93 L454.3 240.42 L455.8 240.92 L457.3 241.42 L458.8 241.91 L460.3 242.4 L461.8 242.9 L463.3 243.39 L464.8 243.88 L466.3 244.38 L467.8 244.88 L469.3 245.38 L470.8 245.88 L472.3 246.39 L473.8 246.9 L475.3 247.42 L476.8 247.94 L478.3 248.47 L479.8 249 L481.3 249.54 L482.8 250.08 L484.3 250.63 L485.8 251.19 L487.3 251.75 L488.8 252.31 L490.3 252.88 L491.8 253.45 L493.3 254.02 L494.8 254.59 L496.3 255.17 L497.8 255.74 L499.3 256.32 L500.8 256.9 L502.3 257.48 L503.8 258.06 L505.3 258.63 L506.8 259.21 L508.3 259.78 L509.8 260.35 L511.3 260.92 L512.8 261.49 L514.3 262.05 L515.8 262.61 L517.3 263.17 L518.8 263.72 L520.3 264.28 L521.8 264.83 L523.3 265.38 L524.8 265.93 L526.3 266.48 L527.8 267.03 L529.3 267.57 L530.8 268.12 L532.3 268.67 L533.8 269.21 L535.3 269.76 L536.8 270.3 L538.3 270.85 L539.8 271.39 L541.3 271.94 L542.8 272.49 L544.3 273.03 L545.8 273.58 L547.3 274.12 L548.8 274.67 L550.3 275.22 L551.8 275.77 L553.3 276.31 L554.8 276.86 L556.3 277.41 L557 277.67 M410 232.32 L410.8 232.63 L412.3 233.2 L413.8 233.77 L415.3 234.34 L416.8 234.91 L418.3 235.48 L419.8 236.05 L421.3 236.62 L422.8 237.19 L424.3 237.77 L425.8 238.34 L427.3 238.91 L428.8 239.48 L430.3 240.05 L431.8 240.62 L433.3 241.18 L434.8 241.75 L436.3 242.32 L437.8 242.88 L439.3 243.45 L440.8 244.01 L442.3 244.57 L443.8 245.13 L445.3 245.69 L446.8 246.24 L448.3 246.8 L449.8 247.35 L451.3 247.9 L452.8 248.45 L454.3 249 L455.8 249.55 L457.3 250.09 L458.8 250.64 L460.3 251.19 L461.8 251.74 L463.3 252.29 L464.8 252.85 L466.3 253.4 L467.8 253.95 L469.3 254.51 L470.8 255.07 L472.3 255.64 L473.8 256.2 L475.3 256.77 L476.8 257.34 L478.3 257.92 L479.8 258.5 L481.3 259.08 L482.8 259.67 L484.3 260.27 L485.8 260.87 L487.3 261.47 L488.8 262.07 L490.3 262.68 L491.8 263.29 L493.3 263.9 L494.8 264.51 L496.3 265.13 L497.8 265.75 L499.3 266.37 L500.8 266.98 L502.3 267.6 L503.8 268.22 L505.3 268.84 L506.8 269.45 L508.3 270.07 L509.8 270.68 L511.3 271.3 L512.8 271.91 L514.3 272.52 L515.8 273.12 L517.3 273.72 L518.8 274.33 L520.3 274.93 L521.8 275.53 L523.3 276.13 L524.8 276.73 L526.3 277.33 L527.8 277.93 L529.3 278.53 L530.8 279.13 L532.3 279.73 L533.8 280.32 L535.3 280.92 L536.8 281.52 L538.3 282.12 L539.8 282.71 L541.3 283.31 L542.8 283.91 L544.3 284.51 L545.8 285.1 L547.3 285.7 L548.8 286.3 L550.3 286.9 L551.8 287.5 L553.3 288.1 L554.8 288.7 L556.3 289.3 L557 289.58 M418 244.96 L418.3 245.08 L419.8 245.69 L421.3 246.3 L422.8 246.91 L424.3 247.52 L425.8 248.14 L427.3 248.75 L428.8 249.37 L430.3 249.98 L431.8 250.59 L433.3 251.2 L434.8 251.81 L436.3 252.42 L437.8 253.02 L439.3 253.62 L440.8 254.22 L442.3 254.81 L443.8 255.4 L445.3 255.99 L446.8 256.58 L448.3 257.16 L449.8 257.74 L451.3 258.32 L452.8 258.9 L454.3 259.48 L455.8 260.06 L457.3 260.64 L458.8 261.22 L460.3 261.79 L461.8 262.37 L463.3 262.96 L464.8 263.54 L466.3 264.12 L467.8 264.71 L469.3 265.3 L470.8 265.89 L472.3 266.48 L473.8 267.08 L475.3 267.68 L476.8 268.28 L478.3 268.89 L479.8 269.5 L481.3 270.12 L482.8 270.74 L484.3 271.37 L485.8 272.01 L487.3 272.65 L488.8 273.29 L490.3 273.94 L491.8 274.59 L493.3 275.24 L494.8 275.89 L496.3 276.55 L497.8 277.21 L499.3 277.86 L500.8 278.52 L502.3 279.17 L503.8 279.82 L505.3 280.48 L506.8 281.12 L508.3 281.77 L509.8 282.41 L511.3 283.05 L512.8 283.68 L514.3 284.3 L515.8 284.92 L517.3 285.54 L518.8 286.15 L520.3 286.76 L521.8 287.36 L523.3 287.97 L524.8 288.57 L526.3 289.16 L527.8 289.76 L529.3 290.35 L530.8 290.94 L532.3 291.53 L533.8 292.12 L535.3 292.71 L536.8 293.3 L538.3 293.89 L539.8 294.47 L541.3 295.06 L542.8 295.65 L544.3 296.24 L545.8 296.83 L547.3 297.42 L548.8 298.01 L550.3 298.6 L551.8 299.2 L553.3 299.79 L554.8 300.39 L556.3 300.98 L557 301.26 M410 256.33 L410.8 256.65 L412.3 257.23 L413.8 257.82 L415.3 258.4 L416.8 258.98 L418.3 259.55 L419.8 260.13 L421.3 260.7 L422.8 261.27 L424.3 261.84 L425.8 262.42 L427.3 262.99 L428.8 263.56 L430.3 264.14 L431.8 264.71 L433.3 265.29 L434.8 265.87 L436.3 266.45 L437.8 267.04 L439.3 267.63 L440.8 268.22 L442.3 268.81 L443.8 269.41 L445.3 270 L446.8 270.59 L448.3 271.19 L449.8 271.78 L451.3 272.37 L452.8 272.97 L454.3 273.57 L455.8 274.16 L457.3 274.76 L458.8 275.36 L460.3 275.96 L461.8 276.57 L463.3 277.17 L464.8 277.78 L466.3 278.39 L467.8 279 L469.3 279.62 L470.8 280.23 L472.3 280.85 L473.8 281.48 L475.3 282.1 L476.8 282.73 L478.3 283.36 L479.8 284 L481.3 284.64 L482.8 285.29 L484.3 285.94 L485.8 286.6 L487.3 287.26 L488.8 287.92 L490.3 288.59 L491.8 289.26 L493.3 289.93 L494.8 290.61 L496.3 291.29 L497.8 291.97 L499.3 292.65 L500.8 293.33 L502.3 294.02 L503.8 294.7 L505.3 295.38 L506.8 296.07 L508.3 296.75 L509.8 297.43 L511.3 298.11 L512.8 298.79 L514.3 299.46 L515.8 300.13 L517.3 300.81 L518.8 301.48 L520.3 302.15 L521.8 302.82 L523.3 303.49 L524.8 304.16 L526.3 304.84 L527.8 305.51 L529.3 306.18 L530.8 306.85 L532.3 307.52 L533.8 308.19 L535.3 308.86 L536.8 309.53 L538.3 310.21 L539.8 310.88 L541.3 311.55 L542.8 312.22 L544.3 312.89 L545.8 313.56 L547.3 314.23 L548.8 314.9 L550.3 315.58 L551.8 316.25 L553.3 316.92 L554.8 317.59 L556.3 318.26 L557 318.58 M419 269.16 L419.8 269.51 L421.3 270.15 L422.8 270.79 L424.3 271.43 L425.8 272.08 L427.3 272.72 L428.8 273.37 L430.3 274.01 L431.8 274.66 L433.3 275.3 L434.8 275.95 L436.3 276.59 L437.8 277.24 L439.3 277.88 L440.8 278.53 L442.3 279.17 L443.8 279.81 L445.3 280.45 L446.8 281.09 L448.3 281.73 L449.8 282.37 L451.3 283.01 L452.8 283.65 L454.3 284.29 L455.8 284.93 L457.3 285.57 L458.8 286.21 L460.3 286.85 L461.8 287.5 L463.3 288.14 L464.8 288.79 L466.3 289.44 L467.8 290.09 L469.3 290.74 L470.8 291.4 L472.3 292.05 L473.8 292.72 L475.3 293.38 L476.8 294.05 L478.3 294.72 L479.8 295.4 L481.3 296.08 L482.8 296.77 L484.3 297.47 L485.8 298.17 L487.3 298.88 L488.8 299.59 L490.3 300.31 L491.8 301.03 L493.3 301.75 L494.8 302.48 L496.3 303.2 L497.8 303.93 L499.3 304.66 L500.8 305.38 L502.3 306.1 L503.8 306.83 L505.3 307.54 L506.8 308.26 L508.3 308.97 L509.8 309.68 L511.3 310.38 L512.8 311.07 L514.3 311.76 L515.8 312.44 L517.3 313.11 L518.8 313.78 L520.3 314.44 L521.8 315.1 L523.3 315.75 L524.8 316.41 L526.3 317.06 L527.8 317.7 L529.3 318.35 L530.8 318.99 L532.3 319.63 L533.8 320.27 L535.3 320.9 L536.8 321.54 L538.3 322.18 L539.8 322.81 L541.3 323.45 L542.8 324.08 L544.3 324.72 L545.8 325.36 L547.3 326 L548.8 326.64 L550.3 327.28 L551.8 327.93 L553.3 328.58 L554.8 329.22 L556.3 329.87 L557 330.17 M434 289.15 L434.8 289.5 L436.3 290.16 L437.8 290.82 L439.3 291.47 L440.8 292.13 L442.3 292.79 L443.8 293.44 L445.3 294.09 L446.8 294.73 L448.3 295.38 L449.8 296.02 L451.3 296.66 L452.8 297.3 L454.3 297.94 L455.8 298.58 L457.3 299.22 L458.8 299.86 L460.3 300.5 L461.8 301.14 L463.3 301.78 L464.8 302.42 L466.3 303.07 L467.8 303.72 L469.3 304.36 L470.8 305.02 L472.3 305.67 L473.8 306.33 L475.3 306.99 L476.8 307.66 L478.3 308.33 L479.8 309 L481.3 309.68 L482.8 310.37 L484.3 311.06 L485.8 311.76 L487.3 312.46 L488.8 313.17 L490.3 313.88 L491.8 314.6 L493.3 315.32 L494.8 316.04 L496.3 316.76 L497.8 317.48 L499.3 318.2 L500.8 318.92 L502.3 319.64 L503.8 320.35 L505.3 321.07 L506.8 321.78 L508.3 322.49 L509.8 323.19 L511.3 323.88 L512.8 324.57 L514.3 325.26 L515.8 325.93 L517.3 326.61 L518.8 327.27 L520.3 327.94 L521.8 328.59 L523.3 329.25 L524.8 329.9 L526.3 330.55 L527.8 331.2 L529.3 331.84 L530.8 332.48 L532.3 333.12 L533.8 333.76 L535.3 334.4 L536.8 335.04 L538.3 335.67 L539.8 336.31 L541.3 336.94 L542.8 337.58 L544.3 338.22 L545.8 338.86 L547.3 339.5 L548.8 340.14 L550.3 340.78 L551.8 341.43 L553.3 342.08 L554.8 342.72 L556.3 343.37 L557 343.67 M436 307.47 L436.3 307.61 L437.8 308.32 L439.3 309.03 L440.8 309.74 L442.3 310.45 L443.8 311.16 L445.3 311.87 L446.8 312.58 L448.3 313.29 L449.8 314.01 L451.3 314.72 L452.8 315.43 L454.3 316.14 L455.8 316.85 L457.3 317.56 L458.8 318.27 L460.3 318.98 L461.8 319.69 L463.3 320.39 L464.8 321.09 L466.3 321.8 L467.8 322.5 L469.3 323.19 L470.8 323.89 L472.3 324.58 L473.8 325.27 L475.3 325.96 L476.8 326.64 L478.3 327.32 L479.8 328 L481.3 328.67 L482.8 329.33 L484.3 329.99 L485.8 330.64 L487.3 331.28 L488.8 331.92 L490.3 332.55 L491.8 333.18 L493.3 333.81 L494.8 334.44 L496.3 335.06 L497.8 335.69 L499.3 336.32 L500.8 336.96 L502.3 337.59 L503.8 338.23 L505.3 338.88 L506.8 339.53 L508.3 340.19 L509.8 340.86 L511.3 341.54 L512.8 342.23 L514.3 342.93 L515.8 343.64 L517.3 344.37 L518.8 345.11 L520.3 345.85 L521.8 346.61 L523.3 347.38 L524.8 348.16 L526.3 348.95 L527.8 349.74 L529.3 350.54 L530.8 351.35 L532.3 352.16 L533.8 352.97 L535.3 353.79 L536.8 354.61 L538.3 355.43 L539.8 356.25 L541.3 357.07 L542.8 357.89 L544.3 358.71 L545.8 359.52 L547.3 360.33 L548.8 361.13 L550.3 361.93 L551.8 362.73 L553.3 363.52 L554.8 364.32 L556.3 365.11 L557 365.48 M437 320.68 L437.8 321.1 L439.3 321.88 L440.8 322.66 L442.3 323.44 L443.8 324.22 L445.3 325 L446.8 325.79 L448.3 326.58 L449.8 327.37 L451.3 328.16 L452.8 328.95 L454.3 329.74 L455.8 330.53 L457.3 331.31 L458.8 332.1 L460.3 332.89 L461.8 333.68 L463.3 334.46 L464.8 335.24 L466.3 336.02 L467.8 336.8 L469.3 337.58 L470.8 338.35 L472.3 339.12 L473.8 339.88 L475.3 340.64 L476.8 341.4 L478.3 342.15 L479.8 342.9 L481.3 343.64 L482.8 344.38 L484.3 345.1 L485.8 345.83 L487.3 346.54 L488.8 347.26 L490.3 347.97 L491.8 348.67 L493.3 349.38 L494.8 350.08 L496.3 350.78 L497.8 351.48 L499.3 352.18 L500.8 352.88 L502.3 353.58 L503.8 354.29 L505.3 354.99 L506.8 355.7 L508.3 356.41 L509.8 357.13 L511.3 357.85 L512.8 358.58 L514.3 359.31 L515.8 360.05 L517.3 360.79 L518.8 361.54 L520.3 362.29 L521.8 363.05 L523.3 363.81 L524.8 364.57 L526.3 365.34 L527.8 366.11 L529.3 366.88 L530.8 367.65 L532.3 368.43 L533.8 369.2 L535.3 369.98 L536.8 370.76 L538.3 371.54 L539.8 372.32 L541.3 373.09 L542.8 373.87 L544.3 374.65 L545.8 375.42 L547.3 376.2 L548.8 376.97 L550.3 377.74 L551.8 378.51 L553.3 379.28 L554.8 380.05 L556.3 380.82 L557 381.18 M440 337.03 L440.8 337.46 L442.3 338.27 L443.8 339.08 L445.3 339.88 L446.8 340.68 L448.3 341.48 L449.8 342.28 L451.3 343.08 L452.8 343.88 L454.3 344.67 L455.8 345.46 L457.3 346.26 L458.8 347.05 L460.3 347.84 L461.8 348.63 L463.3 349.42 L464.8 350.21 L466.3 351 L467.8 351.78 L469.3 352.57 L470.8 353.36 L472.3 354.15 L473.8 354.94 L475.3 355.73 L476.8 356.52 L478.3 357.31 L479.8 358.1 L481.3 358.89 L482.8 359.69 L484.3 360.49 L485.8 361.28 L487.3 362.08 L488.8 362.89 L490.3 363.69 L491.8 364.49 L493.3 365.29 L494.8 366.09 L496.3 366.89 L497.8 367.69 L499.3 368.49 L500.8 369.28 L502.3 370.08 L503.8 370.87 L505.3 371.65 L506.8 372.44 L508.3 373.22 L509.8 373.99 L511.3 374.77 L512.8 375.53 L514.3 376.29 L515.8 377.05 L517.3 377.8 L518.8 378.55 L520.3 379.29 L521.8 380.03 L523.3 380.76 L524.8 381.49 L526.3 382.21 L527.8 382.94 L529.3 383.66 L530.8 384.37 L532.3 385.09 L533.8 385.8 L535.3 386.52 L536.8 387.23 L538.3 387.94 L539.8 388.65 L541.3 389.37 L542.8 390.08 L544.3 390.79 L545.8 391.51 L547.3 392.22 L548.8 392.94 L550.3 393.66 L551.8 394.38 L553.3 395.1 L554.8 395.83 L556.3 396.55 L557 396.89 M428 351.68 L428.8 352.17 L430.3 353.08 L431.8 353.99 L433.3 354.9 L434.8 355.81 L436.3 356.71 L437.8 357.6 L439.3 358.49 L440.8 359.38 L442.3 360.26 L443.8 361.13 L445.3 362.01 L446.8 362.89 L448.3 363.76 L449.8 364.63 L451.3 365.5 L452.8 366.37 L454.3 367.24 L455.8 368.1 L457.3 368.97 L458.8 369.83 L460.3 370.69 L461.8 371.54 L463.3 372.4 L464.8 373.25 L466.3 374.1 L467.8 374.94 L469.3 375.79 L470.8 376.63 L472.3 377.46 L473.8 378.3 L475.3 379.13 L476.8 379.96 L478.3 380.78 L479.8 381.6 L481.3 382.41 L482.8 383.22 L484.3 384.01 L485.8 384.8 L487.3 385.59 L488.8 386.37 L490.3 387.14 L491.8 387.91 L493.3 388.68 L494.8 389.44 L496.3 390.2 L497.8 390.97 L499.3 391.73 L500.8 392.5 L502.3 393.27 L503.8 394.04 L505.3 394.82 L506.8 395.61 L508.3 396.4 L509.8 397.19 L511.3 398 L512.8 398.81 L514.3 399.63 L515.8 400.47 L517.3 401.31 L518.8 402.17 L520.3 403.03 L521.8 403.9 L523.3 404.78 L524.8 405.66 L526.3 406.55 L527.8 407.45 L529.3 408.35 L530.8 409.25 L532.3 410.16 L533.8 411.07 L535.3 411.98 L536.8 412.9 L538.3 413.82 L539.8 414.73 L541.3 415.65 L542.8 416.56 L544.3 417.48 L545.8 418.39 L547.3 419.3 L548.8 420.2 L550.3 421.1 L551.8 422 L553.3 422.89 L554.8 423.79 L556.3 424.69 L557 425.11 M421 362.13 L421.3 362.31 L422.8 363.2 L424.3 364.09 L425.8 364.99 L427.3 365.89 L428.8 366.79 L430.3 367.7 L431.8 368.61 L433.3 369.53 L434.8 370.45 L436.3 371.37 L437.8 372.31 L439.3 373.24 L440.8 374.19 L442.3 375.15 L443.8 376.12 L445.3 377.1 L446.8 378.1 L448.3 379.11 L449.8 380.12 L451.3 381.15 L452.8 382.17 L454.3 383.21 L455.8 384.25 L457.3 385.29 L458.8 386.33 L460.3 387.37 L461.8 388.41 L463.3 389.45 L464.8 390.48 L466.3 391.51 L467.8 392.53 L469.3 393.54 L470.8 394.55 L472.3 395.54 L473.8 396.52 L475.3 397.49 L476.8 398.44 L478.3 399.38 L479.8 400.3 L481.3 401.2 L482.8 402.09 L484.3 402.96 L485.8 403.82 L487.3 404.67 L488.8 405.51 L490.3 406.34 L491.8 407.16 L493.3 407.97 L494.8 408.79 L496.3 409.59 L497.8 410.4 L499.3 411.2 L500.8 412.01 L502.3 412.81 L503.8 413.62 L505.3 414.44 L506.8 415.26 L508.3 416.08 L509.8 416.92 L511.3 417.77 L512.8 418.62 L514.3 419.49 L515.8 420.38 L517.3 421.27 L518.8 422.18 L520.3 423.09 L521.8 424.01 L523.3 424.94 L524.8 425.88 L526.3 426.82 L527.8 427.76 L529.3 428.72 L530.8 429.67 L532.3 430.63 L533.8 431.59 L535.3 432.56 L536.8 433.52 L538.3 434.49 L539.8 435.46 L541.3 436.42 L542.8 437.39 L544.3 438.36 L545.8 439.32 L547.3 440.28 L548.8 441.23 L550.3 442.18 L551.8 443.13 L553.3 444.08 L554.8 445.03 L556.3 445.97 L557 446.42 M422 376.44 L422.8 376.95 L424.3 377.91 L425.8 378.87 L427.3 379.83 L428.8 380.79 L430.3 381.75 L431.8 382.71 L433.3 383.68 L434.8 384.64 L436.3 385.6 L437.8 386.57 L439.3 387.53 L440.8 388.49 L442.3 389.46 L443.8 390.43 L445.3 391.4 L446.8 392.38 L448.3 393.36 L449.8 394.35 L451.3 395.33 L452.8 396.32 L454.3 397.31 L455.8 398.3 L457.3 399.29 L458.8 400.28 L460.3 401.26 L461.8 402.25 L463.3 403.23 L464.8 404.22 L466.3 405.2 L467.8 406.17 L469.3 407.14 L470.8 408.11 L472.3 409.08 L473.8 410.03 L475.3 410.99 L476.8 411.93 L478.3 412.87 L479.8 413.8 L481.3 414.72 L482.8 415.64 L484.3 416.54 L485.8 417.44 L487.3 418.33 L488.8 419.22 L490.3 420.1 L491.8 420.97 L493.3 421.85 L494.8 422.72 L496.3 423.58 L497.8 424.45 L499.3 425.32 L500.8 426.19 L502.3 427.06 L503.8 427.93 L505.3 428.8 L506.8 429.68 L508.3 430.57 L509.8 431.46 L511.3 432.35 L512.8 433.25 L514.3 434.17 L515.8 435.08 L517.3 436.01 L518.8 436.94 L520.3 437.88 L521.8 438.82 L523.3 439.77 L524.8 440.73 L526.3 441.68 L527.8 442.64 L529.3 443.6 L530.8 444.57 L532.3 445.54 L533.8 446.51 L535.3 447.48 L536.8 448.45 L538.3 449.42 L539.8 450.4 L541.3 451.37 L542.8 452.34 L544.3 453.31 L545.8 454.28 L547.3 455.25 L548.8 456.22 L550.3 457.18 L551.8 458.14 L553.3 459.1 L554.8 460.06 L556.3 461.02 L557 461.47 M405 383.49 L406.3 384.35 L407.8 385.34 L409.3 386.32 L410.8 387.31 L412.3 388.3 L413.8 389.28 L415.3 390.27 L416.8 391.26 L418.3 392.25 L419.8 393.24 L421.3 394.23 L422.8 395.22 L424.3 396.21 L425.8 397.2 L427.3 398.2 L428.8 399.19 L430.3 400.19 L431.8 401.18 L433.3 402.18 L434.8 403.18 L436.3 404.19 L437.8 405.19 L439.3 406.19 L440.8 407.2 L442.3 408.21 L443.8 409.22 L445.3 410.23 L446.8 411.24 L448.3 412.26 L449.8 413.27 L451.3 414.29 L452.8 415.3 L454.3 416.32 L455.8 417.34 L457.3 418.36 L458.8 419.38 L460.3 420.41 L461.8 421.43 L463.3 422.46 L464.8 423.48 L466.3 424.51 L467.8 425.54 L469.3 426.57 L470.8 427.6 L472.3 428.63 L473.8 429.66 L475.3 430.69 L476.8 431.73 L478.3 432.76 L479.8 433.8 L481.3 434.84 L482.8 435.89 L484.3 436.94 L485.8 437.99 L487.3 439.05 L488.8 440.11 L490.3 441.18 L491.8 442.24 L493.3 443.31 L494.8 444.38 L496.3 445.45 L497.8 446.51 L499.3 447.58 L500.8 448.64 L502.3 449.7 L503.8 450.76 L505.3 451.81 L506.8 452.86 L508.3 453.9 L509.8 454.93 L511.3 455.96 L512.8 456.98 L514.3 458 L515.8 459 L517.3 460 L518.8 460.98 L520.3 461.97 L521.8 462.94 L523.3 463.91 L524.8 464.88 L526.3 465.84 L527.8 466.8 L529.3 467.75 L530.8 468.7 L532.3 469.65 L533.8 470.59 L535.3 471.53 L536.8 472.48 L538.3 473.42 L539.8 474.36 L541.3 475.3 L542.8 476.24 L544.3 477.19 L545.8 478.13 L547.3 479.08 L548.8 480.03 L550.3 480.98 L551.8 481.94 L553.3 482.89 L554.8 483.85 L556.3 484.81 L557 485.25 M399 388.89 L400.3 389.75 L401.8 390.75 L403.3 391.75 L404.8 392.77 L406.3 393.8 L407.8 394.84 L409.3 395.89 L410.8 396.95 L412.3 398.01 L413.8 399.08 L415.3 400.16 L416.8 401.25 L418.3 402.34 L419.8 403.43 L421.3 404.53 L422.8 405.63 L424.3 406.73 L425.8 407.83 L427.3 408.93 L428.8 410.03 L430.3 411.13 L431.8 412.23 L433.3 413.32 L434.8 414.41 L436.3 415.5 L437.8 416.57 L439.3 417.65 L440.8 418.71 L442.3 419.78 L443.8 420.84 L445.3 421.91 L446.8 422.97 L448.3 424.04 L449.8 425.1 L451.3 426.17 L452.8 427.23 L454.3 428.3 L455.8 429.36 L457.3 430.42 L458.8 431.47 L460.3 432.53 L461.8 433.58 L463.3 434.63 L464.8 435.68 L466.3 436.72 L467.8 437.76 L469.3 438.8 L470.8 439.83 L472.3 440.85 L473.8 441.87 L475.3 442.89 L476.8 443.9 L478.3 444.9 L479.8 445.9 L481.3 446.88 L482.8 447.85 L484.3 448.79 L485.8 449.72 L487.3 450.63 L488.8 451.54 L490.3 452.43 L491.8 453.32 L493.3 454.2 L494.8 455.09 L496.3 455.97 L497.8 456.86 L499.3 457.76 L500.8 458.66 L502.3 459.58 L503.8 460.51 L505.3 461.45 L506.8 462.42 L508.3 463.4 L509.8 464.41 L511.3 465.44 L512.8 466.51 L514.3 467.6 L515.8 468.73 L517.3 469.92 L518.8 471.19 L520.3 472.51 L521.8 473.87 L523.3 475.25 L524.8 476.65 L526.3 478.04 L527.8 479.42 L529 480.5 M395 397.03 L395.8 397.57 L397.3 398.6 L398.8 399.62 L400.3 400.65 L401.8 401.69 L403.3 402.73 L404.8 403.78 L406.3 404.83 L407.8 405.89 L409.3 406.96 L410.8 408.04 L412.3 409.12 L413.8 410.2 L415.3 411.29 L416.8 412.39 L418.3 413.49 L419.8 414.59 L421.3 415.7 L422.8 416.81 L424.3 417.92 L425.8 419.04 L427.3 420.15 L428.8 421.27 L430.3 422.39 L431.8 423.51 L433.3 424.63 L434.8 425.75 L436.3 426.87 L437.8 427.99 L439.3 429.11 L440.8 430.22 L442.3 431.34 L443.8 432.46 L445.3 433.57 L446.8 434.69 L448.3 435.82 L449.8 436.94 L451.3 438.06 L452.8 439.19 L454.3 440.31 L455.8 441.44 L457.3 442.57 L458.8 443.7 L460.3 444.83 L461.8 445.96 L463.3 447.09 L464.8 448.22 L466.3 449.36 L467.8 450.49 L469.3 451.63 L470.8 452.76 L472.3 453.9 L473.8 455.04 L475.3 456.18 L476.8 457.32 L478.3 458.46 L479.8 459.6 L481.3 460.74 L482.8 461.89 L484.3 463.04 L485.8 464.18 L487.3 465.33 L488.8 466.49 L490.3 467.64 L491.8 468.79 L493.3 469.95 L494.8 471.1 L496.3 472.26 L497.8 473.42 L499.3 474.57 L500.8 475.73 L502.3 476.88 L503.8 478.04 L505.3 479.19 L506.8 480.35 L507 480.5 M416.5 428.02 L416.8 428.25 L418.3 429.38 L419.8 430.51 L421.3 431.64 L422.8 432.78 L424.3 433.92 L425.8 435.06 L427.3 436.21 L428.8 437.35 L430.3 438.5 L431.8 439.66 L433.3 440.81 L434.8 441.97 L436.3 443.13 L437.8 444.3 L439.3 445.46 L440.8 446.63 L442.3 447.81 L443.8 449 L445.3 450.19 L446.8 451.39 L448.3 452.59 L449.8 453.8 L451.3 455.02 L452.8 456.23 L454.3 457.46 L455.8 458.68 L457.3 459.9 L458.8 461.13 L460.3 462.36 L461.8 463.58 L463.3 464.81 L464.8 466.03 L466.3 467.25 L467.8 468.47 L469.3 469.68 L470.8 470.89 L472.3 472.09 L473.8 473.29 L475.3 474.48 L476.8 475.66 L478.3 476.83 L479.8 478 L481.3 479.14 L482.8 480.27 L483.1 480.5 M404 438.59 L404.8 439.21 L406.3 440.38 L407.8 441.55 L409.3 442.72 L410.8 443.89 L412.3 445.06 L413.8 446.24 L415.3 447.42 L416.8 448.6 L418.3 449.78 L419.8 450.96 L421.3 452.14 L422.8 453.32 L424.3 454.51 L425.8 455.69 L427.3 456.87 L428.8 458.06 L430.3 459.24 L431.8 460.43 L433.3 461.61 L434.8 462.8 L436.3 463.98 L437.8 465.17 L439.3 466.35 L440.8 467.54 L442.3 468.72 L443.8 469.9 L445.3 471.09 L446.8 472.28 L448.3 473.46 L449.8 474.65 L451.3 475.83 L452.8 477.02 L454.3 478.21 L455.8 479.39 L457.2 480.5 M385 435.54 L385.3 435.8 L386.8 437.09 L388.3 438.38 L389.8 439.67 L391.3 440.96 L392.8 442.25 L394.3 443.52 L395.8 444.8 L397.3 446.06 L398.8 447.32 L400.3 448.56 L401.8 449.8 L403.3 451.02 L404.8 452.22 L406.3 453.42 L407.8 454.61 L409.3 455.79 L410.8 456.97 L412.3 458.14 L413.8 459.31 L415.3 460.47 L416.8 461.63 L418.3 462.78 L419.8 463.93 L421.3 465.08 L422.8 466.22 L424.3 467.36 L425.8 468.5 L427.3 469.63 L428.8 470.77 L430.3 471.9 L431.8 473.03 L433.3 474.17 L434.8 475.3 L436.3 476.43 L437.8 477.56 L439.3 478.69 L440.8 479.83 L441.7 480.5 M374 439.93 L374.8 440.52 L376.3 441.63 L377.8 442.72 L379.3 443.81 L380.8 444.9 L382.3 445.99 L383.8 447.07 L385.3 448.16 L386.8 449.25 L388.3 450.34 L389.8 451.44 L391.3 452.54 L392.8 453.65 L394.3 454.77 L395.8 455.91 L397.3 457.05 L398.8 458.21 L400.3 459.39 L401.8 460.58 L403.3 461.8 L404.8 463.03 L406.3 464.29 L407.8 465.59 L409.3 466.9 L410.8 468.24 L412.3 469.59 L413.8 470.96 L415.3 472.34 L416.8 473.72 L418.3 475.11 L419.8 476.49 L421.3 477.87 L422.8 479.23 L424.2 480.5 M367 447.58 L367.3 447.83 L368.8 449.09 L370.3 450.35 L371.8 451.61 L373.3 452.89 L374.8 454.16 L376.3 455.44 L377.8 456.73 L379.3 458.02 L380.8 459.3 L382.3 460.59 L383.8 461.88 L385.3 463.18 L386.8 464.46 L388.3 465.75 L389.8 467.04 L391.3 468.32 L392.8 469.6 L394.3 470.88 L395.8 472.15 L397.3 473.41 L398.8 474.67 L400.3 475.92 L401.8 477.16 L403.3 478.4 L404.8 479.62 L405.9 480.5 M367.5 470.5 L368.8 471.64 L370.3 472.93 L371.8 474.2 L373.3 475.46 L374.8 476.72 L376.3 477.98 L377.8 479.23 L379.3 480.5"/>
</g>
<g font-family="'Liberation Serif',serif" font-style="italic" font-size="9.6" fill="#1c1a22" stroke="#1c1a22" stroke-width="0.22" text-anchor="middle">
<g transform="translate(517.8 182.1) rotate(17)"><rect x="-9.7" y="-4.8" width="19.4" height="10" fill="#fff" stroke="none"/><text x="0" y="3.2">3.05</text></g>
<g transform="translate(514.5 199.5) rotate(19)"><rect x="-9.7" y="-4.8" width="19.4" height="10" fill="#fff" stroke="none"/><text x="0" y="3.2">1.52</text></g>
<g transform="translate(503.75 212.6) rotate(19)"><rect x="-9.7" y="-4.8" width="19.4" height="10" fill="#fff" stroke="none"/><text x="0" y="3.2">0.91</text></g>
<g transform="translate(500.7 226.5) rotate(19)"><rect x="-9.7" y="-4.8" width="19.4" height="10" fill="#fff" stroke="none"/><text x="0" y="3.2">0.61</text></g>
<g transform="translate(495 237.7) rotate(20)"><rect x="-9.7" y="-4.8" width="19.4" height="10" fill="#fff" stroke="none"/><text x="0" y="3.2">0.46</text></g>
<g transform="translate(492.5 248.4) rotate(20)"><rect x="-9.7" y="-4.8" width="19.4" height="10" fill="#fff" stroke="none"/><text x="0" y="3.2">0.37</text></g>
<g transform="translate(490.9 259) rotate(21)"><rect x="-9.7" y="-4.8" width="19.4" height="10" fill="#fff" stroke="none"/><text x="0" y="3.2">0.30</text></g>
<g transform="translate(486.4 267.2) rotate(22)"><rect x="-9.7" y="-4.8" width="19.4" height="10" fill="#fff" stroke="none"/><text x="0" y="3.2">0.24</text></g>
<g transform="translate(482 279.1) rotate(22)"><rect x="-9.7" y="-4.8" width="19.4" height="10" fill="#fff" stroke="none"/><text x="0" y="3.2">0.18</text></g>
<g transform="translate(476.4 288.9) rotate(23)"><rect x="-9.7" y="-4.8" width="19.4" height="10" fill="#fff" stroke="none"/><text x="0" y="3.2">0.15</text></g>
<g transform="translate(472.3 301.2) rotate(23)"><rect x="-9.7" y="-4.8" width="19.4" height="10" fill="#fff" stroke="none"/><text x="0" y="3.2">0.12</text></g>
<g transform="translate(461 313.9) rotate(25)"><rect x="-12.1" y="-4.8" width="24.2" height="10" fill="#fff" stroke="none"/><text x="0" y="3.2">0.091</text></g>
<g transform="translate(455.5 324.8) rotate(26)"><rect x="-12.1" y="-4.8" width="24.2" height="10" fill="#fff" stroke="none"/><text x="0" y="3.2">0.076</text></g>
<g transform="translate(453.3 338.1) rotate(28)"><rect x="-12.1" y="-4.8" width="24.2" height="10" fill="#fff" stroke="none"/><text x="0" y="3.2">0.061</text></g>
<g transform="translate(442.9 353.4) rotate(29.5)"><rect x="-12.1" y="-4.8" width="24.2" height="10" fill="#fff" stroke="none"/><text x="0" y="3.2">0.046</text></g>
<g transform="translate(434.1 366.25) rotate(32)"><rect x="-12.1" y="-4.8" width="24.2" height="10" fill="#fff" stroke="none"/><text x="0" y="3.2">0.037</text></g>
<g transform="translate(427.3 375.3) rotate(32.5)"><rect x="-12.1" y="-4.8" width="24.2" height="10" fill="#fff" stroke="none"/><text x="0" y="3.2">0.030</text></g>
<g transform="translate(418.75 387.8) rotate(33.5)"><rect x="-12.1" y="-4.8" width="24.2" height="10" fill="#fff" stroke="none"/><text x="0" y="3.2">0.024</text></g>
<g transform="translate(412.2 395.6) rotate(35)"><rect x="-12.1" y="-4.8" width="24.2" height="10" fill="#fff" stroke="none"/><text x="0" y="3.2">0.021</text></g>
<g transform="translate(406.5 402.9) rotate(35)"><rect x="-12.1" y="-4.8" width="24.2" height="10" fill="#fff" stroke="none"/><text x="0" y="3.2">0.018</text></g>
<g transform="translate(400.4 411.5) rotate(36)"><rect x="-12.1" y="-4.8" width="24.2" height="10" fill="#fff" stroke="none"/><text x="0" y="3.2">0.015</text></g>
<g transform="translate(389.6 421.6) rotate(37)"><rect x="-12.1" y="-4.8" width="24.2" height="10" fill="#fff" stroke="none"/><text x="0" y="3.2">0.012</text></g>
<g transform="translate(380.2 427.3) rotate(38)"><rect x="-12.1" y="-4.8" width="24.2" height="10" fill="#fff" stroke="none"/><text x="0" y="3.2">0.011</text></g>
<g transform="translate(368.75 428.9) rotate(38)"><rect x="-14.5" y="-4.8" width="29" height="10" fill="#fff" stroke="none"/><text x="0" y="3.2">0.0091</text></g>
<g transform="translate(358.9 433.5) rotate(39)"><rect x="-14.5" y="-4.8" width="29" height="10" fill="#fff" stroke="none"/><text x="0" y="3.2">0.0076</text></g>
<g transform="translate(338.5 435.6) rotate(39)"><rect x="-14.5" y="-4.8" width="29" height="10" fill="#fff" stroke="none"/><text x="0" y="3.2">0.0061</text></g>
<g transform="translate(314.1 436.7) rotate(40)"><rect x="-14.5" y="-4.8" width="29" height="10" fill="#fff" stroke="none"/><text x="0" y="3.2">0.0046</text></g>
<g transform="translate(294.8 433.5) rotate(41)"><rect x="-14.5" y="-4.8" width="29" height="10" fill="#fff" stroke="none"/><text x="0" y="3.2">0.0037</text></g>
<g transform="translate(283.3 435.6) rotate(42)"><rect x="-14.5" y="-4.8" width="29" height="10" fill="#fff" stroke="none"/><text x="0" y="3.2">0.0030</text></g>
<g transform="translate(263 444) rotate(42)"><rect x="-14.5" y="-4.8" width="29" height="10" fill="#fff" stroke="none"/><text x="0" y="3.2">0.0021</text></g>
</g>
<g transform="translate(193.2 401) rotate(42.3)" font-family="'Liberation Serif',serif" fill="#1c1a22" stroke="#1c1a22" stroke-width="0.2"><rect x="-2.5" y="-8.2" width="27.5" height="10.8" fill="#fff" stroke="none"/><rect x="1.5" y="0" width="10.5" height="9" fill="#fff" stroke="none"/><rect x="57" y="-8.2" width="41.5" height="13.4" fill="#fff" stroke="none"/><text x="0" y="0" font-size="9.4" textLength="95.5" lengthAdjust="spacingAndGlyphs" xml:space="preserve"><tspan font-style="italic">P</tspan><tspan font-size="7.3" dy="2.07">H</tspan><tspan font-size="5.47" dy="1.82">2</tspan><tspan font-size="7.3" dy="-1.82">O</tspan><tspan dy="-2.07" font-style="italic"> L</tspan><tspan font-style="italic"> = 0.0015</tspan><tspan> atm m</tspan></text></g>
<g transform="translate(457.7 149.8) rotate(14.7)" font-family="'Liberation Serif',serif" fill="#1c1a22" stroke="#1c1a22" stroke-width="0.2"><rect x="-2" y="-8.2" width="90.4" height="10.8" fill="#fff" stroke="none"/><text x="0" y="0" font-size="9.4" textLength="86.4" lengthAdjust="spacingAndGlyphs" xml:space="preserve"><tspan font-style="italic">P</tspan><tspan font-size="7.3" dy="2.07">H</tspan><tspan font-size="5.47" dy="1.82">2</tspan><tspan font-size="7.3" dy="-1.82">O</tspan><tspan dy="-2.07" font-style="italic"> L</tspan><tspan font-style="italic"> = 6.10</tspan><tspan> atm m</tspan></text></g>
<g font-family="'Liberation Serif',serif" font-size="9" fill="#1c1a22" text-anchor="end">
<text x="178.2" y="99" font-weight="bold" textLength="12.5" lengthAdjust="spacingAndGlyphs">0.7</text>
<text x="178.2" y="110.8" font-weight="bold" textLength="12.5" lengthAdjust="spacingAndGlyphs">0.6</text>
<text x="178.2" y="125.4" font-weight="bold" textLength="12.5" lengthAdjust="spacingAndGlyphs">0.5</text>
<text x="178.2" y="144.3" font-weight="bold" textLength="12.5" lengthAdjust="spacingAndGlyphs">0.4</text>
<text x="178.2" y="167.5" font-weight="bold" textLength="12.5" lengthAdjust="spacingAndGlyphs">0.3</text>
<text x="178.2" y="201.2" font-weight="bold" textLength="12.5" lengthAdjust="spacingAndGlyphs">0.2</text>
<text x="178.2" y="259" font-weight="bold" textLength="12.2" lengthAdjust="spacingAndGlyphs">0.1</text>
<text x="178.2" y="268.8" stroke="#2a2830" stroke-width="0.12" fill="#2a2830" textLength="17.9" lengthAdjust="spacingAndGlyphs">0.09</text>
<text x="178.2" y="279" stroke="#2a2830" stroke-width="0.12" fill="#2a2830" textLength="17.9" lengthAdjust="spacingAndGlyphs">0.08</text>
<text x="178.2" y="290.3" stroke="#2a2830" stroke-width="0.12" fill="#2a2830" textLength="17.9" lengthAdjust="spacingAndGlyphs">0.07</text>
<text x="178.2" y="303.3" stroke="#2a2830" stroke-width="0.12" fill="#2a2830" textLength="17.9" lengthAdjust="spacingAndGlyphs">0.06</text>
<text x="178.2" y="319" stroke="#2a2830" stroke-width="0.12" fill="#2a2830" textLength="17.9" lengthAdjust="spacingAndGlyphs">0.05</text>
<text x="178.2" y="337" stroke="#2a2830" stroke-width="0.12" fill="#2a2830" textLength="17.9" lengthAdjust="spacingAndGlyphs">0.04</text>
<text x="178.2" y="361.6" stroke="#2a2830" stroke-width="0.12" fill="#2a2830" textLength="17.9" lengthAdjust="spacingAndGlyphs">0.03</text>
<text x="178.2" y="394.8" stroke="#2a2830" stroke-width="0.12" fill="#2a2830" textLength="17.9" lengthAdjust="spacingAndGlyphs">0.02</text>
<text x="178.2" y="453.1" stroke="#2a2830" stroke-width="0.12" fill="#2a2830" textLength="17.6" lengthAdjust="spacingAndGlyphs">0.01</text>
<text x="178.2" y="463.5" stroke="#1c1a22" stroke-width="0.36" textLength="23.4" lengthAdjust="spacingAndGlyphs">0.009</text>
<text x="178.2" y="474" stroke="#1c1a22" stroke-width="0.36" textLength="23.4" lengthAdjust="spacingAndGlyphs">0.008</text>
<text x="178.2" y="481.5" stroke="#1c1a22" stroke-width="0.36" textLength="23.4" lengthAdjust="spacingAndGlyphs">0.007</text>
</g>
<g font-family="'Liberation Serif',serif" font-size="9" fill="#1c1a22" stroke="#1c1a22" stroke-width="0.2" text-anchor="middle">
<text x="185.3" y="492.4" textLength="14.2" lengthAdjust="spacingAndGlyphs">250</text>
<text x="218.7" y="492.4" textLength="14.2" lengthAdjust="spacingAndGlyphs">500</text>
<text x="256.6" y="492.4" textLength="14.2" lengthAdjust="spacingAndGlyphs">750</text>
<text x="293.3" y="492.4" textLength="19.2" lengthAdjust="spacingAndGlyphs">1000</text>
<text x="332.5" y="492.4" textLength="19.2" lengthAdjust="spacingAndGlyphs">1250</text>
<text x="367.2" y="492.4" textLength="19.2" lengthAdjust="spacingAndGlyphs">1500</text>
<text x="404.5" y="492.4" textLength="19.2" lengthAdjust="spacingAndGlyphs">1750</text>
<text x="439.3" y="492.4" textLength="19.2" lengthAdjust="spacingAndGlyphs">2000</text>
<text x="477.4" y="492.4" textLength="19.2" lengthAdjust="spacingAndGlyphs">2250</text>
<text x="512.8" y="492.4" textLength="19.2" lengthAdjust="spacingAndGlyphs">2500</text>
<text x="547" y="492.4" textLength="19.2" lengthAdjust="spacingAndGlyphs">2750</text>
<text x="369.6" y="506.2" font-size="8.2" stroke-width="0.28" textLength="69.4" lengthAdjust="spacingAndGlyphs">Temperature (K)</text>
</g>
<g transform="translate(146.4 296.4) rotate(-90)" font-family="'Liberation Serif',serif" fill="#1c1a22"><text x="0" y="0" font-size="8" fill="#9aa0ad">ε</text><text x="3.4" y="3.6" font-size="7" font-weight="bold" textLength="14.2" lengthAdjust="spacingAndGlyphs">H<tspan font-size="5.4" dy="1.6">2</tspan><tspan dy="-1.6">O</tspan></text></g>
</g>
<text x="192.5" y="524.5" font-family="'Liberation Serif',serif" font-weight="bold" font-style="italic" font-size="15.4" fill="#111" textLength="382" lengthAdjust="spacingAndGlyphs" xml:space="preserve">Fig. 1.  Emissivity of water vapor at a total pressure of 1 atm</text>
<path d="M204 543.7 H567.1 M204.5 575.25 H474.3 M503 575.25 H566.6 M204.5 607.4 H420 M446.5 607.4 H566.6 M204.5 640.6 H566.6 M204.5 672.2 H409.3 M463.5 672.2 H506.4 M544 672.2 H566.6 M204.5 704.4 H476.2 M504.3 704.4 H566.6 M204.5 735.9 H566.6 M204.5 768 H566.6 M204.5 799.7 H566.6 M204 831.8 H567.1 M204.5 543.7 V831.8 M266 543.7 V831.8 M325.5 543.7 V831.8 M386.1 543.7 V675 M386.1 702.5 V831.8 M445.2 543.7 V588.8 M445.2 609.5 V831.8 M505.9 543.7 V559.5 M505.9 575 V671.6 M505.9 704 V831.8 M566.6 543.7 V831.8" fill="none" stroke="#0a0a0a" stroke-width="1.05"/>
<path d="M204.5 740.73 L207.52 738.87 L210.53 737.03 L213.55 735.19 L216.57 733.35 L219.59 731.52 L222.6 729.7 L225.62 727.89 L228.64 726.08 L231.66 724.28 L234.68 722.48 L237.69 720.67 L240.71 718.84 L243.73 717 L246.75 715.16 L249.76 713.33 L252.78 711.53 L255.8 709.78 L258.81 708.07 L261.83 706.43 L264.85 704.88 L267.87 703.4 L270.88 701.98 L273.9 700.62 L276.92 699.3 L279.94 698.01 L282.96 696.74 L285.97 695.47 L288.99 694.2 L292.01 692.91 L295.02 691.59 L298.04 690.24 L301.06 688.87 L304.08 687.48 L307.1 686.09 L310.11 684.7 L313.13 683.32 L316.15 681.97 L319.17 680.65 L322.18 679.38 L325.2 678.15 L328.22 676.96 L331.24 675.8 L334.25 674.67 L337.27 673.56 L340.29 672.47 L343.31 671.4 L346.32 670.35 L349.34 669.31 L352.36 668.29 L355.38 667.28 L358.39 666.28 L361.41 665.29 L364.43 664.3 L367.45 663.33 L370.46 662.37 L373.48 661.43 L376.5 660.52 L379.51 659.64 L382.53 658.79 L385.55 657.98 L388.57 657.19 L391.59 656.4 L394.6 655.62 L397.62 654.84 L400.64 654.07 L403.66 653.31 L406.67 652.55 L409.69 651.82 L412.71 651.09 L415.73 650.39 L418.74 649.7 L421.76 649.04 L424.78 648.39 L427.8 647.77 L430.81 647.18 L433.83 646.62 L436.85 646.09 L439.87 645.59 L442.88 645.12 L445.9 644.7 L448.92 644.29 L451.94 643.91 L454.95 643.55 L457.97 643.2 L460.99 642.86 L464 642.54 L467.02 642.23 L470.04 641.93 L473.06 641.64 L476.08 641.36 L479.09 641.09 L482.11 640.82 L485.13 640.56 L488.15 640.3 L491.16 640.05 L494.18 639.79 L497.2 639.54 L500.22 639.29 L503.23 639.03 L506.25 638.77 L509.27 638.51 L512.29 638.26 L515.3 638 L518.32 637.75 L521.34 637.5 L524.36 637.26 L527.37 637.01 L530.39 636.77 L533.41 636.54 L536.43 636.3 L539.44 636.07 L542.46 635.84 L545.48 635.62 L548.5 635.39 L551.51 635.18 L554.53 634.96 L557.55 634.75 L560.57 634.54 L563.58 634.33 L566.6 634.13 M204.5 750.33 L207.52 748.18 L210.53 746.04 L213.55 743.89 L216.57 741.76 L219.59 739.63 L222.6 737.5 L225.62 735.38 L228.64 733.26 L231.66 731.15 L234.68 729.04 L237.69 726.91 L240.71 724.73 L243.73 722.53 L246.75 720.32 L249.76 718.14 L252.78 715.99 L255.8 713.91 L258.81 711.91 L261.83 710.01 L264.85 708.24 L267.87 706.58 L270.88 705.01 L273.9 703.52 L276.92 702.07 L279.94 700.68 L282.96 699.31 L285.97 697.95 L288.99 696.6 L292.01 695.23 L295.02 693.83 L298.04 692.41 L301.06 690.99 L304.08 689.57 L307.1 688.16 L310.11 686.75 L313.13 685.35 L316.15 683.96 L319.17 682.59 L322.18 681.24 L325.2 679.91 L328.22 678.6 L331.24 677.3 L334.25 676.01 L337.27 674.74 L340.29 673.48 L343.31 672.24 L346.32 671 L349.34 669.78 L352.36 668.57 L355.38 667.38 L358.39 666.19 L361.41 665 L364.43 663.82 L367.45 662.64 L370.46 661.48 L373.48 660.34 L376.5 659.22 L379.51 658.13 L382.53 657.08 L385.55 656.06 L388.57 655.06 L391.59 654.07 L394.6 653.08 L397.62 652.1 L400.64 651.13 L403.66 650.16 L406.67 649.21 L409.69 648.27 L412.71 647.35 L415.73 646.44 L418.74 645.55 L421.76 644.69 L424.78 643.85 L427.8 643.03 L430.81 642.24 L433.83 641.48 L436.85 640.75 L439.87 640.06 L442.88 639.4 L445.9 638.77 L448.92 638.18 L451.94 637.6 L454.95 637.04 L457.97 636.49 L460.99 635.96 L464 635.44 L467.02 634.94 L470.04 634.45 L473.06 633.97 L476.08 633.51 L479.09 633.06 L482.11 632.62 L485.13 632.19 L488.15 631.78 L491.16 631.37 L494.18 630.98 L497.2 630.59 L500.22 630.22 L503.23 629.85 L506.25 629.49 L509.27 629.14 L512.29 628.79 L515.3 628.45 L518.32 628.11 L521.34 627.78 L524.36 627.45 L527.37 627.13 L530.39 626.82 L533.41 626.52 L536.43 626.22 L539.44 625.93 L542.46 625.65 L545.48 625.38 L548.5 625.11 L551.51 624.86 L554.53 624.61 L557.55 624.38 L560.57 624.15 L563.58 623.93 L566.6 623.73 M204.5 762.18 L207.52 759.71 L210.53 757.26 L213.55 754.81 L216.57 752.37 L219.59 749.93 L222.6 747.5 L225.62 745.08 L228.64 742.66 L231.66 740.25 L234.68 737.85 L237.69 735.42 L240.71 732.95 L243.73 730.47 L246.75 727.98 L249.76 725.51 L252.78 723.09 L255.8 720.72 L258.81 718.43 L261.83 716.23 L264.85 714.16 L267.87 712.19 L270.88 710.29 L273.9 708.45 L276.92 706.68 L279.94 704.94 L282.96 703.25 L285.97 701.59 L288.99 699.95 L292.01 698.33 L295.02 696.71 L298.04 695.11 L301.06 693.55 L304.08 692.01 L307.1 690.49 L310.11 689 L313.13 687.52 L316.15 686.05 L319.17 684.58 L322.18 683.13 L325.2 681.67 L328.22 680.21 L331.24 678.76 L334.25 677.32 L337.27 675.89 L340.29 674.46 L343.31 673.05 L346.32 671.64 L349.34 670.24 L352.36 668.85 L355.38 667.47 L358.39 666.09 L361.41 664.71 L364.43 663.32 L367.45 661.93 L370.46 660.55 L373.48 659.2 L376.5 657.87 L379.51 656.58 L382.53 655.33 L385.55 654.14 L388.57 652.98 L391.59 651.84 L394.6 650.72 L397.62 649.61 L400.64 648.51 L403.66 647.44 L406.67 646.37 L409.69 645.33 L412.71 644.3 L415.73 643.28 L418.74 642.29 L421.76 641.31 L424.78 640.35 L427.8 639.4 L430.81 638.48 L433.83 637.57 L436.85 636.68 L439.87 635.81 L442.88 634.96 L445.9 634.13 L448.92 633.32 L451.94 632.52 L454.95 631.75 L457.97 630.98 L460.99 630.23 L464 629.5 L467.02 628.78 L470.04 628.07 L473.06 627.37 L476.08 626.68 L479.09 626 L482.11 625.33 L485.13 624.67 L488.15 624.02 L491.16 623.37 L494.18 622.73 L497.2 622.09 L500.22 621.46 L503.23 620.83 L506.25 620.21 L509.27 619.58 L512.29 618.97 L515.3 618.35 L518.32 617.75 L521.34 617.14 L524.36 616.55 L527.37 615.96 L530.39 615.37 L533.41 614.79 L536.43 614.22 L539.44 613.65 L542.46 613.09 L545.48 612.54 L548.5 611.99 L551.51 611.45 L554.53 610.91 L557.55 610.39 L560.57 609.86 L563.58 609.35 L566.6 608.84 M204.5 778.18 L207.52 775.38 L210.53 772.59 L213.55 769.81 L216.57 767.03 L219.59 764.26 L222.6 761.49 L225.62 758.73 L228.64 755.98 L231.66 753.23 L234.68 750.49 L237.69 747.73 L240.71 744.92 L243.73 742.08 L246.75 739.25 L249.76 736.43 L252.78 733.66 L255.8 730.96 L258.81 728.34 L261.83 725.83 L264.85 723.44 L267.87 721.18 L270.88 719.02 L273.9 716.93 L276.92 714.91 L279.94 712.94 L282.96 711 L285.97 709.08 L288.99 707.16 L292.01 705.23 L295.02 703.28 L298.04 701.29 L301.06 699.3 L304.08 697.3 L307.1 695.31 L310.11 693.34 L313.13 691.38 L316.15 689.45 L319.17 687.56 L322.18 685.71 L325.2 683.91 L328.22 682.16 L331.24 680.45 L334.25 678.77 L337.27 677.12 L340.29 675.5 L343.31 673.89 L346.32 672.3 L349.34 670.72 L352.36 669.15 L355.38 667.57 L358.39 665.99 L361.41 664.39 L364.43 662.77 L367.45 661.16 L370.46 659.56 L373.48 657.98 L376.5 656.45 L379.51 654.97 L382.53 653.56 L385.55 652.22 L388.57 650.94 L391.59 649.68 L394.6 648.46 L397.62 647.25 L400.64 646.07 L403.66 644.92 L406.67 643.78 L409.69 642.67 L412.71 641.58 L415.73 640.5 L418.74 639.45 L421.76 638.41 L424.78 637.39 L427.8 636.38 L430.81 635.39 L433.83 634.41 L436.85 633.44 L439.87 632.49 L442.88 631.54 L445.9 630.61 L448.92 629.69 L451.94 628.79 L454.95 627.9 L457.97 627.04 L460.99 626.18 L464 625.34 L467.02 624.51 L470.04 623.7 L473.06 622.89 L476.08 622.09 L479.09 621.3 L482.11 620.51 L485.13 619.73 L488.15 618.95 L491.16 618.18 L494.18 617.4 L497.2 616.63 L500.22 615.85 L503.23 615.07 L506.25 614.28 L509.27 613.5 L512.29 612.72 L515.3 611.93 L518.32 611.16 L521.34 610.38 L524.36 609.61 L527.37 608.84 L530.39 608.07 L533.41 607.31 L536.43 606.54 L539.44 605.79 L542.46 605.03 L545.48 604.28 L548.5 603.52 L551.51 602.78 L554.53 602.03 L557.55 601.29 L560.57 600.55 L563.58 599.81 L566.6 599.08 M204.5 793.39 L207.52 790.25 L210.53 787.13 L213.55 784 L216.57 780.89 L219.59 777.78 L222.6 774.68 L225.62 771.58 L228.64 768.49 L231.66 765.41 L234.68 762.34 L237.69 759.23 L240.71 756.09 L243.73 752.92 L246.75 749.75 L249.76 746.61 L252.78 743.5 L255.8 740.46 L258.81 737.5 L261.83 734.65 L264.85 731.93 L267.87 729.32 L270.88 726.8 L273.9 724.36 L276.92 721.98 L279.94 719.65 L282.96 717.36 L285.97 715.11 L288.99 712.87 L292.01 710.63 L295.02 708.4 L298.04 706.16 L301.06 703.94 L304.08 701.74 L307.1 699.56 L310.11 697.4 L313.13 695.26 L316.15 693.15 L319.17 691.06 L322.18 688.99 L325.2 686.95 L328.22 684.93 L331.24 682.94 L334.25 680.97 L337.27 679.02 L340.29 677.09 L343.31 675.18 L346.32 673.28 L349.34 671.41 L352.36 669.55 L355.38 667.7 L358.39 665.87 L361.41 664.02 L364.43 662.18 L367.45 660.34 L370.46 658.53 L373.48 656.75 L376.5 655.01 L379.51 653.32 L382.53 651.69 L385.55 650.14 L388.57 648.65 L391.59 647.2 L394.6 645.78 L397.62 644.4 L400.64 643.05 L403.66 641.73 L406.67 640.44 L409.69 639.16 L412.71 637.9 L415.73 636.66 L418.74 635.43 L421.76 634.21 L424.78 632.99 L427.8 631.78 L430.81 630.57 L433.83 629.35 L436.85 628.12 L439.87 626.88 L442.88 625.63 L445.9 624.37 L448.92 623.09 L451.94 621.79 L454.95 620.49 L457.97 619.18 L460.99 617.87 L464 616.55 L467.02 615.24 L470.04 613.93 L473.06 612.62 L476.08 611.31 L479.09 610.02 L482.11 608.73 L485.13 607.46 L488.15 606.2 L491.16 604.96 L494.18 603.74 L497.2 602.54 L500.22 601.36 L503.23 600.21 L506.25 599.08 L509.27 597.97 L512.29 596.88 L515.3 595.79 L518.32 594.72 L521.34 593.65 L524.36 592.6 L527.37 591.56 L530.39 590.53 L533.41 589.52 L536.43 588.52 L539.44 587.53 L542.46 586.55 L545.48 585.59 L548.5 584.64 L551.51 583.7 L554.53 582.78 L557.55 581.87 L560.57 580.98 L563.58 580.1 L566.6 579.23 M204.5 802.99 L207.52 799.66 L210.53 796.34 L213.55 793.03 L216.57 789.72 L219.59 786.42 L222.6 783.13 L225.62 779.84 L228.64 776.56 L231.66 773.29 L234.68 770.02 L237.69 766.72 L240.71 763.38 L243.73 760.02 L246.75 756.65 L249.76 753.31 L252.78 750.01 L255.8 746.77 L258.81 743.62 L261.83 740.59 L264.85 737.69 L267.87 734.91 L270.88 732.23 L273.9 729.63 L276.92 727.09 L279.94 724.62 L282.96 722.18 L285.97 719.76 L288.99 717.37 L292.01 714.97 L295.02 712.56 L298.04 710.14 L301.06 707.74 L304.08 705.36 L307.1 702.99 L310.11 700.64 L313.13 698.3 L316.15 695.99 L319.17 693.7 L322.18 691.43 L325.2 689.19 L328.22 686.97 L331.24 684.77 L334.25 682.59 L337.27 680.43 L340.29 678.29 L343.31 676.17 L346.32 674.06 L349.34 671.96 L352.36 669.88 L355.38 667.81 L358.39 665.75 L361.41 663.67 L364.43 661.58 L367.45 659.5 L370.46 657.44 L373.48 655.41 L376.5 653.42 L379.51 651.5 L382.53 649.65 L385.55 647.9 L388.57 646.22 L391.59 644.59 L394.6 643 L397.62 641.46 L400.64 639.96 L403.66 638.49 L406.67 637.05 L409.69 635.63 L412.71 634.23 L415.73 632.85 L418.74 631.48 L421.76 630.12 L424.78 628.76 L427.8 627.39 L430.81 626.02 L433.83 624.64 L436.85 623.25 L439.87 621.83 L442.88 620.39 L445.9 618.93 L448.92 617.43 L451.94 615.92 L454.95 614.38 L457.97 612.83 L460.99 611.27 L464 609.7 L467.02 608.13 L470.04 606.55 L473.06 604.98 L476.08 603.4 L479.09 601.84 L482.11 600.28 L485.13 598.73 L488.15 597.2 L491.16 595.69 L494.18 594.2 L497.2 592.74 L500.22 591.3 L503.23 589.89 L506.25 588.52 L509.27 587.16 L512.29 585.83 L515.3 584.5 L518.32 583.18 L521.34 581.88 L524.36 580.59 L527.37 579.32 L530.39 578.06 L533.41 576.81 L536.43 575.57 L539.44 574.35 L542.46 573.14 L545.48 571.95 L548.5 570.77 L551.51 569.61 L554.53 568.46 L557.55 567.33 L560.57 566.21 L563.58 565.11 L566.6 564.03 M204.5 816.11 L207.52 812.82 L210.53 809.54 L213.55 806.27 L216.57 803 L219.59 799.75 L222.6 796.5 L225.62 793.27 L228.64 790.04 L231.66 786.83 L234.68 783.62 L237.69 780.43 L240.71 777.26 L243.73 774.1 L246.75 770.96 L249.76 767.82 L252.78 764.68 L255.8 761.55 L258.81 758.4 L261.83 755.25 L264.85 752.09 L267.87 748.89 L270.88 745.64 L273.9 742.35 L276.92 739.05 L279.94 735.77 L282.96 732.51 L285.97 729.31 L288.99 726.19 L292.01 723.16 L295.02 720.24 L298.04 717.45 L301.06 714.75 L304.08 712.13 L307.1 709.57 L310.11 707.05 L313.13 704.56 L316.15 702.08 L319.17 699.58 L322.18 697.05 L325.2 694.47 L328.22 691.84 L331.24 689.17 L334.25 686.47 L337.27 683.77 L340.29 681.06 L343.31 678.36 L346.32 675.7 L349.34 673.07 L352.36 670.5 L355.38 668 L358.39 665.57 L361.41 663.15 L364.43 660.75 L367.45 658.37 L370.46 656.03 L373.48 653.75 L376.5 651.54 L379.51 649.42 L382.53 647.4 L385.55 645.5 L388.57 643.69 L391.59 641.95 L394.6 640.28 L397.62 638.67 L400.64 637.1 L403.66 635.58 L406.67 634.1 L409.69 632.65 L412.71 631.23 L415.73 629.82 L418.74 628.43 L421.76 627.04 L424.78 625.65 L427.8 624.26 L430.81 622.85 L433.83 621.43 L436.85 619.98 L439.87 618.49 L442.88 616.97 L445.9 615.4 L448.92 613.79 L451.94 612.14 L454.95 610.46 L457.97 608.75 L460.99 607.02 L464 605.27 L467.02 603.51 L470.04 601.74 L473.06 599.97 L476.08 598.19 L479.09 596.43 L482.11 594.68 L485.13 592.94 L488.15 591.22 L491.16 589.53 L494.18 587.87 L497.2 586.24 L500.22 584.66 L503.23 583.12 L506.25 581.63 L509.27 580.18 L512.29 578.74 L515.3 577.32 L518.32 575.91 L521.34 574.52 L524.36 573.14 L527.37 571.78 L530.39 570.44 L533.41 569.12 L536.43 567.82 L539.44 566.53 L542.46 565.26 L545.48 564.02 L548.5 562.79 L551.51 561.58 L554.53 560.39 L557.55 559.23 L560.57 558.09 L563.58 556.96 L566.6 555.86" fill="none" stroke="#1878c8" stroke-width="1.42" stroke-linejoin="round"/>
<path d="M501.2 590.1 L538.3 647 M493.3 604.1 L521.9 658 M483.2 618.2 L508.3 670.9 M471.5 626.4 L497.3 683.8 M465.6 641.6 L483.9 696.7 M402.3 657.3 L407.8 668.3" fill="none" stroke="#111" stroke-width="1.15"/>
<g font-family="'Liberation Serif',serif" font-size="13" fill="#1c1a22" stroke="#1c1a22" stroke-width="0.2" text-anchor="middle">
<text x="547" y="657.8">0.076</text>
<text x="531.5" y="669.5">0.152</text>
<text x="514.1" y="682.4">0.35</text>
<text x="502.9" y="695.3">0.76</text>
<text x="488.1" y="708.15">1.52</text>
</g>
<g font-family="'Liberation Serif',serif" font-size="13.3" fill="#1c1a22" stroke="#1c1a22" stroke-width="0.2" text-anchor="end">
<text x="199.8" y="547.9">1.8</text>
<text x="199.8" y="579.45">1.6</text>
<text x="199.8" y="611.6">1.4</text>
<text x="199.8" y="644.8">1.2</text>
<text x="199.8" y="676.4">1.0</text>
<text x="199.8" y="708.6">0.8</text>
<text x="199.8" y="740.1">0.6</text>
<text x="199.8" y="772.2">0.4</text>
<text x="199.8" y="803.9">0.2</text>
<text x="199.8" y="836">0</text>
</g>
<g font-family="'Liberation Serif',serif" font-size="13.3" fill="#1c1a22" stroke="#1c1a22" stroke-width="0.2" text-anchor="middle">
<text x="204.5" y="846.2">0</text>
<text x="265.7" y="846.2">0.2</text>
<text x="325.2" y="846.2">0.4</text>
<text x="385.8" y="846.2">0.6</text>
<text x="444.9" y="846.2">0.8</text>
<text x="505.6" y="846.2">1.0</text>
<text x="566.3" y="846.2">1.2</text>
</g>
<g transform="translate(423 610.5) rotate(-24.7)" font-family="'Liberation Serif',serif" fill="#1c1a22" stroke="#1c1a22" stroke-width="0.2"><text x="0" y="0" font-size="13.5" textLength="114.2" lengthAdjust="spacingAndGlyphs" xml:space="preserve"><tspan font-style="italic">P</tspan><tspan font-size="10.2" dy="2.97">H</tspan><tspan font-size="7.65" dy="2.55">2</tspan><tspan font-size="10.2" dy="-2.55">O</tspan><tspan dy="-2.97" font-style="italic">L</tspan><tspan> = 0.015 atm m</tspan></text></g>
<g transform="translate(353.6 692) rotate(-11.2)" font-family="'Liberation Serif',serif" fill="#1c1a22" stroke="#1c1a22" stroke-width="0.2"><text x="0" y="0" font-size="13.5" textLength="109.8" lengthAdjust="spacingAndGlyphs" xml:space="preserve"><tspan font-style="italic">P</tspan><tspan font-size="10.2" dy="2.97">H</tspan><tspan font-size="7.65" dy="2.55">2</tspan><tspan font-size="10.2" dy="-2.55">O</tspan><tspan dy="-2.97" font-style="italic">L</tspan><tspan> = 3.05 atm m</tspan></text></g>
<g transform="translate(173 700.6) rotate(-90)" font-family="'Liberation Sans',sans-serif" fill="#1c1a22" stroke="#1c1a22" stroke-width="0.15"><text x="0" y="0" font-size="13.5">C</text><text x="9.0" y="4.6" font-size="9.4">H<tspan font-size="7.8" dy="2.4">2</tspan><tspan dy="-2.4">O</tspan></text></g>
<g font-family="'Liberation Serif',serif" fill="#1c1a22" stroke="#1c1a22" stroke-width="0.18">
<text x="349.5" y="863.2" font-size="12" textLength="50" lengthAdjust="spacingAndGlyphs"><tspan font-style="italic">P</tspan><tspan font-size="9.8" dy="3.2">H</tspan><tspan font-size="7.4" dy="2">2</tspan><tspan font-size="9.8" dy="-2">O</tspan><tspan dy="-3.2" font-size="13" font-weight="bold">+</tspan><tspan font-style="italic">P</tspan><tspan font-style="italic" font-size="9.8" dy="3.2">T</tspan></text>
<path d="M344.4 872.3 H403.6" stroke="#111" stroke-width="1" fill="none"/>
<text x="374.3" y="885.6" font-size="12.4" text-anchor="middle">2</text>
<text x="407.3" y="876.6" font-size="12.8">atm</text>
</g>
<g font-family="'Liberation Serif',serif" font-weight="bold" font-style="italic" fill="#111"><text x="100.2" y="902.7" font-size="17.4" textLength="47.6" lengthAdjust="spacingAndGlyphs">Fig. 2.</text><text x="154.4" y="902.7" font-size="15.4" textLength="507.6" lengthAdjust="spacingAndGlyphs">Correction factor for the emissivity of water vapor at pressures other than 1 atm</text><text x="667" y="902.7" font-size="11" font-weight="normal">.</text></g>
</svg>
</body></html>
